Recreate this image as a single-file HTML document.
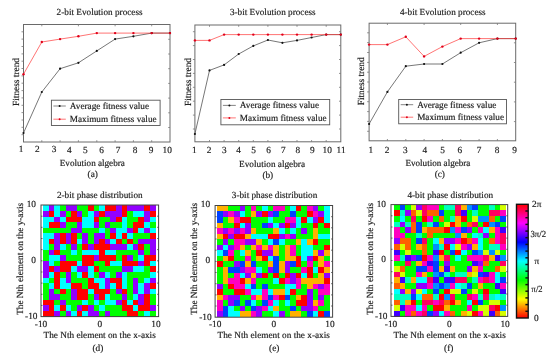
<!DOCTYPE html>
<html><head><meta charset="utf-8"><style>
html,body{margin:0;padding:0;background:#fff;}
body{width:550px;height:358px;overflow:hidden;}
svg{display:block;font-family:'Liberation Serif','Times New Roman',serif;font-size:9.3px;}
text{fill:#222;stroke:#222;stroke-width:0.18px;text-rendering:geometricPrecision;}
</style></head><body>
<svg width="550" height="358" viewBox="0 0 550 358">
<rect width="550" height="358" fill="#fff"/>
<rect x="23.5" y="24.5" width="146.5" height="117.5" fill="none" stroke="#6a6a6a" stroke-width="1"/>
<line x1="21.5" y1="31.8" x2="23.5" y2="31.8" stroke="#777" stroke-width="0.8"/>
<line x1="21.5" y1="39.1" x2="23.5" y2="39.1" stroke="#777" stroke-width="0.8"/>
<line x1="21.5" y1="46.5" x2="23.5" y2="46.5" stroke="#777" stroke-width="0.8"/>
<line x1="21.5" y1="53.9" x2="23.5" y2="53.9" stroke="#777" stroke-width="0.8"/>
<line x1="21.5" y1="61.2" x2="23.5" y2="61.2" stroke="#777" stroke-width="0.8"/>
<line x1="21.5" y1="68.5" x2="23.5" y2="68.5" stroke="#777" stroke-width="0.8"/>
<line x1="21.5" y1="75.9" x2="23.5" y2="75.9" stroke="#777" stroke-width="0.8"/>
<line x1="21.5" y1="83.2" x2="23.5" y2="83.2" stroke="#777" stroke-width="0.8"/>
<line x1="21.5" y1="90.6" x2="23.5" y2="90.6" stroke="#777" stroke-width="0.8"/>
<line x1="21.5" y1="97.9" x2="23.5" y2="97.9" stroke="#777" stroke-width="0.8"/>
<line x1="21.5" y1="105.3" x2="23.5" y2="105.3" stroke="#777" stroke-width="0.8"/>
<line x1="21.5" y1="112.6" x2="23.5" y2="112.6" stroke="#777" stroke-width="0.8"/>
<line x1="21.5" y1="120.0" x2="23.5" y2="120.0" stroke="#777" stroke-width="0.8"/>
<line x1="21.5" y1="127.3" x2="23.5" y2="127.3" stroke="#777" stroke-width="0.8"/>
<line x1="21.5" y1="134.7" x2="23.5" y2="134.7" stroke="#777" stroke-width="0.8"/>
<line x1="170" y1="39.3" x2="168.2" y2="39.3" stroke="#777" stroke-width="0.8"/>
<line x1="170" y1="54.0" x2="168.2" y2="54.0" stroke="#777" stroke-width="0.8"/>
<line x1="170" y1="68.7" x2="168.2" y2="68.7" stroke="#777" stroke-width="0.8"/>
<line x1="170" y1="83.4" x2="168.2" y2="83.4" stroke="#777" stroke-width="0.8"/>
<line x1="170" y1="98.1" x2="168.2" y2="98.1" stroke="#777" stroke-width="0.8"/>
<line x1="170" y1="112.8" x2="168.2" y2="112.8" stroke="#777" stroke-width="0.8"/>
<line x1="170" y1="127.5" x2="168.2" y2="127.5" stroke="#777" stroke-width="0.8"/>
<line x1="41.8" y1="24.5" x2="41.8" y2="26.3" stroke="#777" stroke-width="0.8"/>
<line x1="41.8" y1="142" x2="41.8" y2="140.2" stroke="#777" stroke-width="0.8"/>
<line x1="60.1" y1="142" x2="60.1" y2="140.2" stroke="#777" stroke-width="0.8"/>
<line x1="78.4" y1="24.5" x2="78.4" y2="26.3" stroke="#777" stroke-width="0.8"/>
<line x1="78.4" y1="142" x2="78.4" y2="140.2" stroke="#777" stroke-width="0.8"/>
<line x1="96.8" y1="142" x2="96.8" y2="140.2" stroke="#777" stroke-width="0.8"/>
<line x1="115.1" y1="24.5" x2="115.1" y2="26.3" stroke="#777" stroke-width="0.8"/>
<line x1="115.1" y1="142" x2="115.1" y2="140.2" stroke="#777" stroke-width="0.8"/>
<line x1="133.4" y1="142" x2="133.4" y2="140.2" stroke="#777" stroke-width="0.8"/>
<line x1="151.7" y1="24.5" x2="151.7" y2="26.3" stroke="#777" stroke-width="0.8"/>
<line x1="151.7" y1="142" x2="151.7" y2="140.2" stroke="#777" stroke-width="0.8"/>
<polyline points="23.5,133 41.8,92 60.1,68.7 78.4,62.8 96.8,50.9 115.1,39.1 133.4,36.3 151.7,33.1 170.0,33.1" fill="none" stroke="#4a4a4a" stroke-width="0.75"/>
<polyline points="23.5,74.2 41.8,42 60.1,39.1 78.4,36.3 96.8,33.1 115.1,33.1 133.4,33.1 151.7,33.1 170.0,33.1" fill="none" stroke="#ff3838" stroke-width="0.7"/>
<circle cx="23.5" cy="133" r="1.1" fill="#111"/>
<circle cx="41.8" cy="92" r="1.1" fill="#111"/>
<circle cx="60.1" cy="68.7" r="1.1" fill="#111"/>
<circle cx="78.4" cy="62.8" r="1.1" fill="#111"/>
<circle cx="96.8" cy="50.9" r="1.1" fill="#111"/>
<circle cx="115.1" cy="39.1" r="1.1" fill="#111"/>
<circle cx="133.4" cy="36.3" r="1.1" fill="#111"/>
<circle cx="151.7" cy="33.1" r="1.1" fill="#111"/>
<circle cx="170.0" cy="33.1" r="1.1" fill="#111"/>
<circle cx="23.5" cy="74.2" r="1.2" fill="#e0001a"/>
<circle cx="41.8" cy="42" r="1.2" fill="#e0001a"/>
<circle cx="60.1" cy="39.1" r="1.2" fill="#e0001a"/>
<circle cx="78.4" cy="36.3" r="1.2" fill="#e0001a"/>
<circle cx="96.8" cy="33.1" r="1.2" fill="#e0001a"/>
<circle cx="115.1" cy="33.1" r="1.2" fill="#e0001a"/>
<circle cx="133.4" cy="33.1" r="1.2" fill="#e0001a"/>
<circle cx="151.7" cy="33.1" r="1.2" fill="#e0001a"/>
<circle cx="170.0" cy="33.1" r="1.2" fill="#e0001a"/>
<text x="56.6" y="14.6" textLength="86" lengthAdjust="spacingAndGlyphs">2-bit Evolution process</text>
<text x="21" y="151.7" text-anchor="middle">1</text>
<text x="37.4" y="152.0" text-anchor="middle">2</text>
<text x="54" y="152.3" text-anchor="middle">3</text>
<text x="69.3" y="152.6" text-anchor="middle">4</text>
<text x="85.3" y="152.8" text-anchor="middle">5</text>
<text x="101.6" y="152.8" text-anchor="middle">6</text>
<text x="118" y="152.8" text-anchor="middle">7</text>
<text x="135.2" y="152.8" text-anchor="middle">8</text>
<text x="151.2" y="152.8" text-anchor="middle">9</text>
<text x="167.2" y="152.8" text-anchor="middle">10</text>
<text x="19.4" y="82" text-anchor="middle" textLength="48" lengthAdjust="spacingAndGlyphs" transform="rotate(-90 19.4 82)">Fitness trend</text>
<text x="59.8" y="166.20000000000002" textLength="65" lengthAdjust="spacingAndGlyphs">Evolution algebra</text>
<text x="92.7" y="176.89999999999998" text-anchor="middle">(a)</text>
<rect x="51.4" y="100.2" width="108.7" height="25.3" fill="#fff" stroke="#555" stroke-width="0.9"/>
<line x1="53.4" y1="106" x2="65.8" y2="106" stroke="#666" stroke-width="0.8"/>
<circle cx="59.6" cy="106" r="1" fill="#111"/>
<line x1="53.4" y1="119.2" x2="65.8" y2="119.2" stroke="#ff5050" stroke-width="0.8"/>
<circle cx="59.6" cy="119.2" r="1" fill="#e0001a"/>
<text x="69.8" y="109.0" textLength="79.2" lengthAdjust="spacingAndGlyphs">Average fitness value</text>
<text x="69.8" y="121.8" textLength="86.8" lengthAdjust="spacingAndGlyphs">Maximum fitness value</text>
<rect x="194.9" y="25" width="145.9" height="116.8" fill="none" stroke="#6a6a6a" stroke-width="1"/>
<line x1="192.9" y1="31.7" x2="194.9" y2="31.7" stroke="#777" stroke-width="0.8"/>
<line x1="192.9" y1="45.6" x2="194.9" y2="45.6" stroke="#777" stroke-width="0.8"/>
<line x1="192.9" y1="59.5" x2="194.9" y2="59.5" stroke="#777" stroke-width="0.8"/>
<line x1="192.9" y1="73.4" x2="194.9" y2="73.4" stroke="#777" stroke-width="0.8"/>
<line x1="192.9" y1="87.3" x2="194.9" y2="87.3" stroke="#777" stroke-width="0.8"/>
<line x1="192.9" y1="101.2" x2="194.9" y2="101.2" stroke="#777" stroke-width="0.8"/>
<line x1="192.9" y1="115.1" x2="194.9" y2="115.1" stroke="#777" stroke-width="0.8"/>
<line x1="192.9" y1="129.0" x2="194.9" y2="129.0" stroke="#777" stroke-width="0.8"/>
<line x1="340.8" y1="31.7" x2="339.0" y2="31.7" stroke="#777" stroke-width="0.8"/>
<line x1="340.8" y1="45.6" x2="339.0" y2="45.6" stroke="#777" stroke-width="0.8"/>
<line x1="340.8" y1="59.5" x2="339.0" y2="59.5" stroke="#777" stroke-width="0.8"/>
<line x1="340.8" y1="73.4" x2="339.0" y2="73.4" stroke="#777" stroke-width="0.8"/>
<line x1="340.8" y1="87.3" x2="339.0" y2="87.3" stroke="#777" stroke-width="0.8"/>
<line x1="340.8" y1="101.2" x2="339.0" y2="101.2" stroke="#777" stroke-width="0.8"/>
<line x1="340.8" y1="115.1" x2="339.0" y2="115.1" stroke="#777" stroke-width="0.8"/>
<line x1="340.8" y1="129.0" x2="339.0" y2="129.0" stroke="#777" stroke-width="0.8"/>
<line x1="209.5" y1="25" x2="209.5" y2="26.8" stroke="#777" stroke-width="0.8"/>
<line x1="209.5" y1="141.8" x2="209.5" y2="140.0" stroke="#777" stroke-width="0.8"/>
<line x1="224.1" y1="141.8" x2="224.1" y2="140.0" stroke="#777" stroke-width="0.8"/>
<line x1="238.7" y1="25" x2="238.7" y2="26.8" stroke="#777" stroke-width="0.8"/>
<line x1="238.7" y1="141.8" x2="238.7" y2="140.0" stroke="#777" stroke-width="0.8"/>
<line x1="253.3" y1="141.8" x2="253.3" y2="140.0" stroke="#777" stroke-width="0.8"/>
<line x1="267.9" y1="25" x2="267.9" y2="26.8" stroke="#777" stroke-width="0.8"/>
<line x1="267.9" y1="141.8" x2="267.9" y2="140.0" stroke="#777" stroke-width="0.8"/>
<line x1="282.4" y1="141.8" x2="282.4" y2="140.0" stroke="#777" stroke-width="0.8"/>
<line x1="297.0" y1="25" x2="297.0" y2="26.8" stroke="#777" stroke-width="0.8"/>
<line x1="297.0" y1="141.8" x2="297.0" y2="140.0" stroke="#777" stroke-width="0.8"/>
<line x1="311.6" y1="141.8" x2="311.6" y2="140.0" stroke="#777" stroke-width="0.8"/>
<line x1="326.2" y1="25" x2="326.2" y2="26.8" stroke="#777" stroke-width="0.8"/>
<line x1="326.2" y1="141.8" x2="326.2" y2="140.0" stroke="#777" stroke-width="0.8"/>
<polyline points="194.9,134 209.5,70.4 224.1,64.9 238.7,54 253.3,45.9 267.9,40 282.4,42.8 297.0,40.4 311.6,37.5 326.2,34.6 340.8,34.6" fill="none" stroke="#4a4a4a" stroke-width="0.75"/>
<polyline points="194.9,40.4 209.5,40.4 224.1,34.6 238.7,34.6 253.3,34.6 267.9,34.6 282.4,34.6 297.0,34.6 311.6,34.6 326.2,34.6 340.8,34.6" fill="none" stroke="#ff3838" stroke-width="0.7"/>
<circle cx="194.9" cy="134" r="1.1" fill="#111"/>
<circle cx="209.5" cy="70.4" r="1.1" fill="#111"/>
<circle cx="224.1" cy="64.9" r="1.1" fill="#111"/>
<circle cx="238.7" cy="54" r="1.1" fill="#111"/>
<circle cx="253.3" cy="45.9" r="1.1" fill="#111"/>
<circle cx="267.9" cy="40" r="1.1" fill="#111"/>
<circle cx="282.4" cy="42.8" r="1.1" fill="#111"/>
<circle cx="297.0" cy="40.4" r="1.1" fill="#111"/>
<circle cx="311.6" cy="37.5" r="1.1" fill="#111"/>
<circle cx="326.2" cy="34.6" r="1.1" fill="#111"/>
<circle cx="340.8" cy="34.6" r="1.1" fill="#111"/>
<circle cx="194.9" cy="40.4" r="1.2" fill="#e0001a"/>
<circle cx="209.5" cy="40.4" r="1.2" fill="#e0001a"/>
<circle cx="224.1" cy="34.6" r="1.2" fill="#e0001a"/>
<circle cx="238.7" cy="34.6" r="1.2" fill="#e0001a"/>
<circle cx="253.3" cy="34.6" r="1.2" fill="#e0001a"/>
<circle cx="267.9" cy="34.6" r="1.2" fill="#e0001a"/>
<circle cx="282.4" cy="34.6" r="1.2" fill="#e0001a"/>
<circle cx="297.0" cy="34.6" r="1.2" fill="#e0001a"/>
<circle cx="311.6" cy="34.6" r="1.2" fill="#e0001a"/>
<circle cx="326.2" cy="34.6" r="1.2" fill="#e0001a"/>
<circle cx="340.8" cy="34.6" r="1.2" fill="#e0001a"/>
<text x="229.9" y="15.1" textLength="85.8" lengthAdjust="spacingAndGlyphs">3-bit Evolution process</text>
<text x="194.3" y="152.8" text-anchor="middle">1</text>
<text x="209.1" y="152.8" text-anchor="middle">2</text>
<text x="224.3" y="152.8" text-anchor="middle">3</text>
<text x="238.5" y="152.8" text-anchor="middle">4</text>
<text x="253.6" y="152.8" text-anchor="middle">5</text>
<text x="268.5" y="152.8" text-anchor="middle">6</text>
<text x="283.3" y="152.8" text-anchor="middle">7</text>
<text x="297.8" y="152.8" text-anchor="middle">8</text>
<text x="312.4" y="152.8" text-anchor="middle">9</text>
<text x="327.2" y="152.8" text-anchor="middle">10</text>
<text x="341.1" y="152.8" text-anchor="middle">11</text>
<text x="190.5" y="82" text-anchor="middle" textLength="48" lengthAdjust="spacingAndGlyphs" transform="rotate(-90 190.5 82)">Fitness trend</text>
<text x="239.1" y="166.5" textLength="65.9" lengthAdjust="spacingAndGlyphs">Evolution algebra</text>
<text x="267.8" y="177.5" text-anchor="middle">(b)</text>
<rect x="220.9" y="99.5" width="108.8" height="25.3" fill="#fff" stroke="#555" stroke-width="0.9"/>
<line x1="222.9" y1="105.4" x2="235.8" y2="105.4" stroke="#666" stroke-width="0.8"/>
<circle cx="229.4" cy="105.4" r="1" fill="#111"/>
<line x1="222.9" y1="117.9" x2="235.8" y2="117.9" stroke="#ff5050" stroke-width="0.8"/>
<circle cx="229.4" cy="117.9" r="1" fill="#e0001a"/>
<text x="239.8" y="108.4" textLength="79.2" lengthAdjust="spacingAndGlyphs">Average fitness value</text>
<text x="239.8" y="120.5" textLength="86.8" lengthAdjust="spacingAndGlyphs">Maximum fitness value</text>
<rect x="369.1" y="23.2" width="146.6" height="117.6" fill="none" stroke="#6a6a6a" stroke-width="1"/>
<line x1="367.1" y1="32.8" x2="369.1" y2="32.8" stroke="#777" stroke-width="0.8"/>
<line x1="367.1" y1="42.6" x2="369.1" y2="42.6" stroke="#777" stroke-width="0.8"/>
<line x1="367.1" y1="52.5" x2="369.1" y2="52.5" stroke="#777" stroke-width="0.8"/>
<line x1="367.1" y1="62.4" x2="369.1" y2="62.4" stroke="#777" stroke-width="0.8"/>
<line x1="367.1" y1="72.2" x2="369.1" y2="72.2" stroke="#777" stroke-width="0.8"/>
<line x1="367.1" y1="82.0" x2="369.1" y2="82.0" stroke="#777" stroke-width="0.8"/>
<line x1="367.1" y1="91.9" x2="369.1" y2="91.9" stroke="#777" stroke-width="0.8"/>
<line x1="367.1" y1="101.7" x2="369.1" y2="101.7" stroke="#777" stroke-width="0.8"/>
<line x1="367.1" y1="111.6" x2="369.1" y2="111.6" stroke="#777" stroke-width="0.8"/>
<line x1="367.1" y1="121.4" x2="369.1" y2="121.4" stroke="#777" stroke-width="0.8"/>
<line x1="367.1" y1="131.3" x2="369.1" y2="131.3" stroke="#777" stroke-width="0.8"/>
<line x1="515.7" y1="42.8" x2="513.9000000000001" y2="42.8" stroke="#777" stroke-width="0.8"/>
<line x1="515.7" y1="62.5" x2="513.9000000000001" y2="62.5" stroke="#777" stroke-width="0.8"/>
<line x1="515.7" y1="82.2" x2="513.9000000000001" y2="82.2" stroke="#777" stroke-width="0.8"/>
<line x1="515.7" y1="101.9" x2="513.9000000000001" y2="101.9" stroke="#777" stroke-width="0.8"/>
<line x1="515.7" y1="121.6" x2="513.9000000000001" y2="121.6" stroke="#777" stroke-width="0.8"/>
<line x1="387.4" y1="23.2" x2="387.4" y2="25.0" stroke="#777" stroke-width="0.8"/>
<line x1="387.4" y1="140.8" x2="387.4" y2="139.0" stroke="#777" stroke-width="0.8"/>
<line x1="405.8" y1="140.8" x2="405.8" y2="139.0" stroke="#777" stroke-width="0.8"/>
<line x1="424.1" y1="23.2" x2="424.1" y2="25.0" stroke="#777" stroke-width="0.8"/>
<line x1="424.1" y1="140.8" x2="424.1" y2="139.0" stroke="#777" stroke-width="0.8"/>
<line x1="442.4" y1="140.8" x2="442.4" y2="139.0" stroke="#777" stroke-width="0.8"/>
<line x1="460.7" y1="23.2" x2="460.7" y2="25.0" stroke="#777" stroke-width="0.8"/>
<line x1="460.7" y1="140.8" x2="460.7" y2="139.0" stroke="#777" stroke-width="0.8"/>
<line x1="479.1" y1="140.8" x2="479.1" y2="139.0" stroke="#777" stroke-width="0.8"/>
<line x1="497.4" y1="23.2" x2="497.4" y2="25.0" stroke="#777" stroke-width="0.8"/>
<line x1="497.4" y1="140.8" x2="497.4" y2="139.0" stroke="#777" stroke-width="0.8"/>
<polyline points="369.1,124 387.4,91.9 405.8,66.2 424.1,64 442.4,64 460.7,52.7 479.1,42.8 497.4,38.6 515.7,38.6" fill="none" stroke="#4a4a4a" stroke-width="0.75"/>
<polyline points="369.1,44.6 387.4,44.6 405.8,36.8 424.1,56.4 442.4,46.6 460.7,38.6 479.1,38.6 497.4,38.6 515.7,38.6" fill="none" stroke="#ff3838" stroke-width="0.7"/>
<circle cx="369.1" cy="124" r="1.1" fill="#111"/>
<circle cx="387.4" cy="91.9" r="1.1" fill="#111"/>
<circle cx="405.8" cy="66.2" r="1.1" fill="#111"/>
<circle cx="424.1" cy="64" r="1.1" fill="#111"/>
<circle cx="442.4" cy="64" r="1.1" fill="#111"/>
<circle cx="460.7" cy="52.7" r="1.1" fill="#111"/>
<circle cx="479.1" cy="42.8" r="1.1" fill="#111"/>
<circle cx="497.4" cy="38.6" r="1.1" fill="#111"/>
<circle cx="515.7" cy="38.6" r="1.1" fill="#111"/>
<circle cx="369.1" cy="44.6" r="1.2" fill="#e0001a"/>
<circle cx="387.4" cy="44.6" r="1.2" fill="#e0001a"/>
<circle cx="405.8" cy="36.8" r="1.2" fill="#e0001a"/>
<circle cx="424.1" cy="56.4" r="1.2" fill="#e0001a"/>
<circle cx="442.4" cy="46.6" r="1.2" fill="#e0001a"/>
<circle cx="460.7" cy="38.6" r="1.2" fill="#e0001a"/>
<circle cx="479.1" cy="38.6" r="1.2" fill="#e0001a"/>
<circle cx="497.4" cy="38.6" r="1.2" fill="#e0001a"/>
<circle cx="515.7" cy="38.6" r="1.2" fill="#e0001a"/>
<text x="399.9" y="14.6" textLength="85.8" lengthAdjust="spacingAndGlyphs">4-bit Evolution process</text>
<text x="370.8" y="152.8" text-anchor="middle">1</text>
<text x="387.2" y="152.8" text-anchor="middle">2</text>
<text x="405.4" y="152.8" text-anchor="middle">3</text>
<text x="424.9" y="152.8" text-anchor="middle">4</text>
<text x="442.5" y="152.8" text-anchor="middle">5</text>
<text x="459.8" y="152.8" text-anchor="middle">6</text>
<text x="479" y="152.8" text-anchor="middle">7</text>
<text x="497" y="152.8" text-anchor="middle">8</text>
<text x="514.6" y="152.8" text-anchor="middle">9</text>
<text x="364.2" y="81.3" text-anchor="middle" textLength="48" lengthAdjust="spacingAndGlyphs" transform="rotate(-90 364.2 81.3)">Fitness trend</text>
<text x="405.4" y="165.60000000000002" textLength="65" lengthAdjust="spacingAndGlyphs">Evolution algebra</text>
<text x="439.8" y="176.79999999999998" text-anchor="middle">(c)</text>
<rect x="398.7" y="99.5" width="107.8" height="24.3" fill="#fff" stroke="#555" stroke-width="0.9"/>
<line x1="400.7" y1="104.7" x2="413.2" y2="104.7" stroke="#666" stroke-width="0.8"/>
<circle cx="406.9" cy="104.7" r="1" fill="#111"/>
<line x1="400.7" y1="117.2" x2="413.2" y2="117.2" stroke="#ff5050" stroke-width="0.8"/>
<circle cx="406.9" cy="117.2" r="1" fill="#e0001a"/>
<text x="417.2" y="107.7" textLength="79.2" lengthAdjust="spacingAndGlyphs">Average fitness value</text>
<text x="417.2" y="119.8" textLength="86.8" lengthAdjust="spacingAndGlyphs">Maximum fitness value</text>
<g shape-rendering="crispEdges"><rect x="43.10" y="205.40" width="5.91" height="5.85" fill="#00ffff"/><rect x="48.71" y="205.40" width="5.91" height="5.85" fill="#9200ff"/><rect x="54.32" y="205.40" width="5.91" height="5.85" fill="#00ffff"/><rect x="59.93" y="205.40" width="5.91" height="5.85" fill="#00ff00"/><rect x="65.54" y="205.40" width="5.91" height="5.85" fill="#9200ff"/><rect x="71.15" y="205.40" width="5.91" height="5.85" fill="#9200ff"/><rect x="76.76" y="205.40" width="5.91" height="5.85" fill="#00ff00"/><rect x="82.37" y="205.40" width="5.91" height="5.85" fill="#00ff00"/><rect x="87.98" y="205.40" width="5.91" height="5.85" fill="#ff0000"/><rect x="93.59" y="205.40" width="5.91" height="5.85" fill="#00ff00"/><rect x="99.20" y="205.40" width="5.91" height="5.85" fill="#00ffff"/><rect x="104.81" y="205.40" width="5.91" height="5.85" fill="#ff0000"/><rect x="110.42" y="205.40" width="5.91" height="5.85" fill="#ff0000"/><rect x="116.03" y="205.40" width="5.91" height="5.85" fill="#9200ff"/><rect x="121.64" y="205.40" width="5.91" height="5.85" fill="#ff0000"/><rect x="127.25" y="205.40" width="5.91" height="5.85" fill="#9200ff"/><rect x="132.86" y="205.40" width="5.91" height="5.85" fill="#9200ff"/><rect x="138.47" y="205.40" width="5.91" height="5.85" fill="#9200ff"/><rect x="144.08" y="205.40" width="5.91" height="5.85" fill="#ff0000"/><rect x="149.69" y="205.40" width="5.91" height="5.85" fill="#9200ff"/><rect x="43.10" y="210.95" width="5.91" height="5.85" fill="#9200ff"/><rect x="48.71" y="210.95" width="5.91" height="5.85" fill="#ff0000"/><rect x="54.32" y="210.95" width="5.91" height="5.85" fill="#00ffff"/><rect x="59.93" y="210.95" width="5.91" height="5.85" fill="#9200ff"/><rect x="65.54" y="210.95" width="5.91" height="5.85" fill="#00ff00"/><rect x="71.15" y="210.95" width="5.91" height="5.85" fill="#ff0000"/><rect x="76.76" y="210.95" width="5.91" height="5.85" fill="#9200ff"/><rect x="82.37" y="210.95" width="5.91" height="5.85" fill="#00ff00"/><rect x="87.98" y="210.95" width="5.91" height="5.85" fill="#00ffff"/><rect x="93.59" y="210.95" width="5.91" height="5.85" fill="#9200ff"/><rect x="99.20" y="210.95" width="5.91" height="5.85" fill="#ff0000"/><rect x="104.81" y="210.95" width="5.91" height="5.85" fill="#9200ff"/><rect x="110.42" y="210.95" width="5.91" height="5.85" fill="#9200ff"/><rect x="116.03" y="210.95" width="5.91" height="5.85" fill="#9200ff"/><rect x="121.64" y="210.95" width="5.91" height="5.85" fill="#ff0000"/><rect x="127.25" y="210.95" width="5.91" height="5.85" fill="#00ff00"/><rect x="132.86" y="210.95" width="5.91" height="5.85" fill="#00ffff"/><rect x="138.47" y="210.95" width="5.91" height="5.85" fill="#00ffff"/><rect x="144.08" y="210.95" width="5.91" height="5.85" fill="#9200ff"/><rect x="149.69" y="210.95" width="5.91" height="5.85" fill="#ff0000"/><rect x="43.10" y="216.50" width="5.91" height="5.85" fill="#00ffff"/><rect x="48.71" y="216.50" width="5.91" height="5.85" fill="#00ffff"/><rect x="54.32" y="216.50" width="5.91" height="5.85" fill="#9200ff"/><rect x="59.93" y="216.50" width="5.91" height="5.85" fill="#00ffff"/><rect x="65.54" y="216.50" width="5.91" height="5.85" fill="#ff0000"/><rect x="71.15" y="216.50" width="5.91" height="5.85" fill="#ff0000"/><rect x="76.76" y="216.50" width="5.91" height="5.85" fill="#ff0000"/><rect x="82.37" y="216.50" width="5.91" height="5.85" fill="#00ffff"/><rect x="87.98" y="216.50" width="5.91" height="5.85" fill="#00ffff"/><rect x="93.59" y="216.50" width="5.91" height="5.85" fill="#ff0000"/><rect x="99.20" y="216.50" width="5.91" height="5.85" fill="#00ff00"/><rect x="104.81" y="216.50" width="5.91" height="5.85" fill="#00ff00"/><rect x="110.42" y="216.50" width="5.91" height="5.85" fill="#9200ff"/><rect x="116.03" y="216.50" width="5.91" height="5.85" fill="#ff0000"/><rect x="121.64" y="216.50" width="5.91" height="5.85" fill="#00ffff"/><rect x="127.25" y="216.50" width="5.91" height="5.85" fill="#00ff00"/><rect x="132.86" y="216.50" width="5.91" height="5.85" fill="#00ff00"/><rect x="138.47" y="216.50" width="5.91" height="5.85" fill="#ff0000"/><rect x="144.08" y="216.50" width="5.91" height="5.85" fill="#9200ff"/><rect x="149.69" y="216.50" width="5.91" height="5.85" fill="#00ffff"/><rect x="43.10" y="222.05" width="5.91" height="5.85" fill="#00ffff"/><rect x="48.71" y="222.05" width="5.91" height="5.85" fill="#ff0000"/><rect x="54.32" y="222.05" width="5.91" height="5.85" fill="#ff0000"/><rect x="59.93" y="222.05" width="5.91" height="5.85" fill="#9200ff"/><rect x="65.54" y="222.05" width="5.91" height="5.85" fill="#00ff00"/><rect x="71.15" y="222.05" width="5.91" height="5.85" fill="#00ff00"/><rect x="76.76" y="222.05" width="5.91" height="5.85" fill="#9200ff"/><rect x="82.37" y="222.05" width="5.91" height="5.85" fill="#00ffff"/><rect x="87.98" y="222.05" width="5.91" height="5.85" fill="#00ffff"/><rect x="93.59" y="222.05" width="5.91" height="5.85" fill="#9200ff"/><rect x="99.20" y="222.05" width="5.91" height="5.85" fill="#00ff00"/><rect x="104.81" y="222.05" width="5.91" height="5.85" fill="#9200ff"/><rect x="110.42" y="222.05" width="5.91" height="5.85" fill="#00ff00"/><rect x="116.03" y="222.05" width="5.91" height="5.85" fill="#00ff00"/><rect x="121.64" y="222.05" width="5.91" height="5.85" fill="#00ffff"/><rect x="127.25" y="222.05" width="5.91" height="5.85" fill="#00ff00"/><rect x="132.86" y="222.05" width="5.91" height="5.85" fill="#ff0000"/><rect x="138.47" y="222.05" width="5.91" height="5.85" fill="#ff0000"/><rect x="144.08" y="222.05" width="5.91" height="5.85" fill="#00ffff"/><rect x="149.69" y="222.05" width="5.91" height="5.85" fill="#00ff00"/><rect x="43.10" y="227.60" width="5.91" height="5.85" fill="#00ff00"/><rect x="48.71" y="227.60" width="5.91" height="5.85" fill="#00ff00"/><rect x="54.32" y="227.60" width="5.91" height="5.85" fill="#00ff00"/><rect x="59.93" y="227.60" width="5.91" height="5.85" fill="#00ff00"/><rect x="65.54" y="227.60" width="5.91" height="5.85" fill="#00ff00"/><rect x="71.15" y="227.60" width="5.91" height="5.85" fill="#9200ff"/><rect x="76.76" y="227.60" width="5.91" height="5.85" fill="#9200ff"/><rect x="82.37" y="227.60" width="5.91" height="5.85" fill="#00ff00"/><rect x="87.98" y="227.60" width="5.91" height="5.85" fill="#00ff00"/><rect x="93.59" y="227.60" width="5.91" height="5.85" fill="#00ff00"/><rect x="99.20" y="227.60" width="5.91" height="5.85" fill="#00ffff"/><rect x="104.81" y="227.60" width="5.91" height="5.85" fill="#00ff00"/><rect x="110.42" y="227.60" width="5.91" height="5.85" fill="#9200ff"/><rect x="116.03" y="227.60" width="5.91" height="5.85" fill="#00ffff"/><rect x="121.64" y="227.60" width="5.91" height="5.85" fill="#00ffff"/><rect x="127.25" y="227.60" width="5.91" height="5.85" fill="#9200ff"/><rect x="132.86" y="227.60" width="5.91" height="5.85" fill="#ff0000"/><rect x="138.47" y="227.60" width="5.91" height="5.85" fill="#00ffff"/><rect x="144.08" y="227.60" width="5.91" height="5.85" fill="#9200ff"/><rect x="149.69" y="227.60" width="5.91" height="5.85" fill="#00ffff"/><rect x="43.10" y="233.15" width="5.91" height="5.85" fill="#00ffff"/><rect x="48.71" y="233.15" width="5.91" height="5.85" fill="#00ffff"/><rect x="54.32" y="233.15" width="5.91" height="5.85" fill="#9200ff"/><rect x="59.93" y="233.15" width="5.91" height="5.85" fill="#ff0000"/><rect x="65.54" y="233.15" width="5.91" height="5.85" fill="#9200ff"/><rect x="71.15" y="233.15" width="5.91" height="5.85" fill="#ff0000"/><rect x="76.76" y="233.15" width="5.91" height="5.85" fill="#00ff00"/><rect x="82.37" y="233.15" width="5.91" height="5.85" fill="#9200ff"/><rect x="87.98" y="233.15" width="5.91" height="5.85" fill="#00ff00"/><rect x="93.59" y="233.15" width="5.91" height="5.85" fill="#9200ff"/><rect x="99.20" y="233.15" width="5.91" height="5.85" fill="#9200ff"/><rect x="104.81" y="233.15" width="5.91" height="5.85" fill="#00ff00"/><rect x="110.42" y="233.15" width="5.91" height="5.85" fill="#ff0000"/><rect x="116.03" y="233.15" width="5.91" height="5.85" fill="#00ffff"/><rect x="121.64" y="233.15" width="5.91" height="5.85" fill="#ff0000"/><rect x="127.25" y="233.15" width="5.91" height="5.85" fill="#00ffff"/><rect x="132.86" y="233.15" width="5.91" height="5.85" fill="#00ff00"/><rect x="138.47" y="233.15" width="5.91" height="5.85" fill="#00ff00"/><rect x="144.08" y="233.15" width="5.91" height="5.85" fill="#00ff00"/><rect x="149.69" y="233.15" width="5.91" height="5.85" fill="#ff0000"/><rect x="43.10" y="238.70" width="5.91" height="5.85" fill="#00ffff"/><rect x="48.71" y="238.70" width="5.91" height="5.85" fill="#ff0000"/><rect x="54.32" y="238.70" width="5.91" height="5.85" fill="#9200ff"/><rect x="59.93" y="238.70" width="5.91" height="5.85" fill="#ff0000"/><rect x="65.54" y="238.70" width="5.91" height="5.85" fill="#9200ff"/><rect x="71.15" y="238.70" width="5.91" height="5.85" fill="#ff0000"/><rect x="76.76" y="238.70" width="5.91" height="5.85" fill="#00ffff"/><rect x="82.37" y="238.70" width="5.91" height="5.85" fill="#9200ff"/><rect x="87.98" y="238.70" width="5.91" height="5.85" fill="#00ff00"/><rect x="93.59" y="238.70" width="5.91" height="5.85" fill="#9200ff"/><rect x="99.20" y="238.70" width="5.91" height="5.85" fill="#ff0000"/><rect x="104.81" y="238.70" width="5.91" height="5.85" fill="#9200ff"/><rect x="110.42" y="238.70" width="5.91" height="5.85" fill="#00ffff"/><rect x="116.03" y="238.70" width="5.91" height="5.85" fill="#ff0000"/><rect x="121.64" y="238.70" width="5.91" height="5.85" fill="#00ff00"/><rect x="127.25" y="238.70" width="5.91" height="5.85" fill="#ff0000"/><rect x="132.86" y="238.70" width="5.91" height="5.85" fill="#00ff00"/><rect x="138.47" y="238.70" width="5.91" height="5.85" fill="#9200ff"/><rect x="144.08" y="238.70" width="5.91" height="5.85" fill="#9200ff"/><rect x="149.69" y="238.70" width="5.91" height="5.85" fill="#9200ff"/><rect x="43.10" y="244.25" width="5.91" height="5.85" fill="#00ffff"/><rect x="48.71" y="244.25" width="5.91" height="5.85" fill="#00ff00"/><rect x="54.32" y="244.25" width="5.91" height="5.85" fill="#9200ff"/><rect x="59.93" y="244.25" width="5.91" height="5.85" fill="#00ffff"/><rect x="65.54" y="244.25" width="5.91" height="5.85" fill="#00ff00"/><rect x="71.15" y="244.25" width="5.91" height="5.85" fill="#9200ff"/><rect x="76.76" y="244.25" width="5.91" height="5.85" fill="#00ff00"/><rect x="82.37" y="244.25" width="5.91" height="5.85" fill="#ff0000"/><rect x="87.98" y="244.25" width="5.91" height="5.85" fill="#9200ff"/><rect x="93.59" y="244.25" width="5.91" height="5.85" fill="#ff0000"/><rect x="99.20" y="244.25" width="5.91" height="5.85" fill="#ff0000"/><rect x="104.81" y="244.25" width="5.91" height="5.85" fill="#ff0000"/><rect x="110.42" y="244.25" width="5.91" height="5.85" fill="#9200ff"/><rect x="116.03" y="244.25" width="5.91" height="5.85" fill="#9200ff"/><rect x="121.64" y="244.25" width="5.91" height="5.85" fill="#9200ff"/><rect x="127.25" y="244.25" width="5.91" height="5.85" fill="#00ffff"/><rect x="132.86" y="244.25" width="5.91" height="5.85" fill="#9200ff"/><rect x="138.47" y="244.25" width="5.91" height="5.85" fill="#ff0000"/><rect x="144.08" y="244.25" width="5.91" height="5.85" fill="#00ff00"/><rect x="149.69" y="244.25" width="5.91" height="5.85" fill="#9200ff"/><rect x="43.10" y="249.80" width="5.91" height="5.85" fill="#00ff00"/><rect x="48.71" y="249.80" width="5.91" height="5.85" fill="#9200ff"/><rect x="54.32" y="249.80" width="5.91" height="5.85" fill="#ff0000"/><rect x="59.93" y="249.80" width="5.91" height="5.85" fill="#00ff00"/><rect x="65.54" y="249.80" width="5.91" height="5.85" fill="#00ff00"/><rect x="71.15" y="249.80" width="5.91" height="5.85" fill="#00ffff"/><rect x="76.76" y="249.80" width="5.91" height="5.85" fill="#00ff00"/><rect x="82.37" y="249.80" width="5.91" height="5.85" fill="#00ffff"/><rect x="87.98" y="249.80" width="5.91" height="5.85" fill="#00ffff"/><rect x="93.59" y="249.80" width="5.91" height="5.85" fill="#00ffff"/><rect x="99.20" y="249.80" width="5.91" height="5.85" fill="#ff0000"/><rect x="104.81" y="249.80" width="5.91" height="5.85" fill="#00ffff"/><rect x="110.42" y="249.80" width="5.91" height="5.85" fill="#00ffff"/><rect x="116.03" y="249.80" width="5.91" height="5.85" fill="#00ff00"/><rect x="121.64" y="249.80" width="5.91" height="5.85" fill="#00ff00"/><rect x="127.25" y="249.80" width="5.91" height="5.85" fill="#00ff00"/><rect x="132.86" y="249.80" width="5.91" height="5.85" fill="#00ff00"/><rect x="138.47" y="249.80" width="5.91" height="5.85" fill="#9200ff"/><rect x="144.08" y="249.80" width="5.91" height="5.85" fill="#00ff00"/><rect x="149.69" y="249.80" width="5.91" height="5.85" fill="#9200ff"/><rect x="43.10" y="255.35" width="5.91" height="5.85" fill="#00ff00"/><rect x="48.71" y="255.35" width="5.91" height="5.85" fill="#00ffff"/><rect x="54.32" y="255.35" width="5.91" height="5.85" fill="#00ffff"/><rect x="59.93" y="255.35" width="5.91" height="5.85" fill="#9200ff"/><rect x="65.54" y="255.35" width="5.91" height="5.85" fill="#00ff00"/><rect x="71.15" y="255.35" width="5.91" height="5.85" fill="#00ff00"/><rect x="76.76" y="255.35" width="5.91" height="5.85" fill="#00ff00"/><rect x="82.37" y="255.35" width="5.91" height="5.85" fill="#ff0000"/><rect x="87.98" y="255.35" width="5.91" height="5.85" fill="#ff0000"/><rect x="93.59" y="255.35" width="5.91" height="5.85" fill="#9200ff"/><rect x="99.20" y="255.35" width="5.91" height="5.85" fill="#ff0000"/><rect x="104.81" y="255.35" width="5.91" height="5.85" fill="#ff0000"/><rect x="110.42" y="255.35" width="5.91" height="5.85" fill="#ff0000"/><rect x="116.03" y="255.35" width="5.91" height="5.85" fill="#00ff00"/><rect x="121.64" y="255.35" width="5.91" height="5.85" fill="#ff0000"/><rect x="127.25" y="255.35" width="5.91" height="5.85" fill="#9200ff"/><rect x="132.86" y="255.35" width="5.91" height="5.85" fill="#00ff00"/><rect x="138.47" y="255.35" width="5.91" height="5.85" fill="#00ffff"/><rect x="144.08" y="255.35" width="5.91" height="5.85" fill="#ff0000"/><rect x="149.69" y="255.35" width="5.91" height="5.85" fill="#ff0000"/><rect x="43.10" y="260.90" width="5.91" height="5.85" fill="#9200ff"/><rect x="48.71" y="260.90" width="5.91" height="5.85" fill="#00ffff"/><rect x="54.32" y="260.90" width="5.91" height="5.85" fill="#00ff00"/><rect x="59.93" y="260.90" width="5.91" height="5.85" fill="#ff0000"/><rect x="65.54" y="260.90" width="5.91" height="5.85" fill="#ff0000"/><rect x="71.15" y="260.90" width="5.91" height="5.85" fill="#ff0000"/><rect x="76.76" y="260.90" width="5.91" height="5.85" fill="#00ffff"/><rect x="82.37" y="260.90" width="5.91" height="5.85" fill="#ff0000"/><rect x="87.98" y="260.90" width="5.91" height="5.85" fill="#ff0000"/><rect x="93.59" y="260.90" width="5.91" height="5.85" fill="#00ff00"/><rect x="99.20" y="260.90" width="5.91" height="5.85" fill="#00ff00"/><rect x="104.81" y="260.90" width="5.91" height="5.85" fill="#ff0000"/><rect x="110.42" y="260.90" width="5.91" height="5.85" fill="#00ffff"/><rect x="116.03" y="260.90" width="5.91" height="5.85" fill="#00ffff"/><rect x="121.64" y="260.90" width="5.91" height="5.85" fill="#ff0000"/><rect x="127.25" y="260.90" width="5.91" height="5.85" fill="#ff0000"/><rect x="132.86" y="260.90" width="5.91" height="5.85" fill="#ff0000"/><rect x="138.47" y="260.90" width="5.91" height="5.85" fill="#9200ff"/><rect x="144.08" y="260.90" width="5.91" height="5.85" fill="#ff0000"/><rect x="149.69" y="260.90" width="5.91" height="5.85" fill="#00ffff"/><rect x="43.10" y="266.45" width="5.91" height="5.85" fill="#9200ff"/><rect x="48.71" y="266.45" width="5.91" height="5.85" fill="#ff0000"/><rect x="54.32" y="266.45" width="5.91" height="5.85" fill="#9200ff"/><rect x="59.93" y="266.45" width="5.91" height="5.85" fill="#ff0000"/><rect x="65.54" y="266.45" width="5.91" height="5.85" fill="#ff0000"/><rect x="71.15" y="266.45" width="5.91" height="5.85" fill="#00ffff"/><rect x="76.76" y="266.45" width="5.91" height="5.85" fill="#9200ff"/><rect x="82.37" y="266.45" width="5.91" height="5.85" fill="#9200ff"/><rect x="87.98" y="266.45" width="5.91" height="5.85" fill="#00ffff"/><rect x="93.59" y="266.45" width="5.91" height="5.85" fill="#ff0000"/><rect x="99.20" y="266.45" width="5.91" height="5.85" fill="#00ff00"/><rect x="104.81" y="266.45" width="5.91" height="5.85" fill="#00ff00"/><rect x="110.42" y="266.45" width="5.91" height="5.85" fill="#00ff00"/><rect x="116.03" y="266.45" width="5.91" height="5.85" fill="#00ff00"/><rect x="121.64" y="266.45" width="5.91" height="5.85" fill="#9200ff"/><rect x="127.25" y="266.45" width="5.91" height="5.85" fill="#9200ff"/><rect x="132.86" y="266.45" width="5.91" height="5.85" fill="#00ffff"/><rect x="138.47" y="266.45" width="5.91" height="5.85" fill="#00ffff"/><rect x="144.08" y="266.45" width="5.91" height="5.85" fill="#00ff00"/><rect x="149.69" y="266.45" width="5.91" height="5.85" fill="#ff0000"/><rect x="43.10" y="272.00" width="5.91" height="5.85" fill="#9200ff"/><rect x="48.71" y="272.00" width="5.91" height="5.85" fill="#00ffff"/><rect x="54.32" y="272.00" width="5.91" height="5.85" fill="#ff0000"/><rect x="59.93" y="272.00" width="5.91" height="5.85" fill="#00ff00"/><rect x="65.54" y="272.00" width="5.91" height="5.85" fill="#9200ff"/><rect x="71.15" y="272.00" width="5.91" height="5.85" fill="#00ff00"/><rect x="76.76" y="272.00" width="5.91" height="5.85" fill="#00ffff"/><rect x="82.37" y="272.00" width="5.91" height="5.85" fill="#ff0000"/><rect x="87.98" y="272.00" width="5.91" height="5.85" fill="#00ffff"/><rect x="93.59" y="272.00" width="5.91" height="5.85" fill="#00ff00"/><rect x="99.20" y="272.00" width="5.91" height="5.85" fill="#9200ff"/><rect x="104.81" y="272.00" width="5.91" height="5.85" fill="#00ffff"/><rect x="110.42" y="272.00" width="5.91" height="5.85" fill="#00ff00"/><rect x="116.03" y="272.00" width="5.91" height="5.85" fill="#9200ff"/><rect x="121.64" y="272.00" width="5.91" height="5.85" fill="#00ffff"/><rect x="127.25" y="272.00" width="5.91" height="5.85" fill="#00ff00"/><rect x="132.86" y="272.00" width="5.91" height="5.85" fill="#00ff00"/><rect x="138.47" y="272.00" width="5.91" height="5.85" fill="#00ff00"/><rect x="144.08" y="272.00" width="5.91" height="5.85" fill="#00ff00"/><rect x="149.69" y="272.00" width="5.91" height="5.85" fill="#00ffff"/><rect x="43.10" y="277.55" width="5.91" height="5.85" fill="#00ffff"/><rect x="48.71" y="277.55" width="5.91" height="5.85" fill="#00ff00"/><rect x="54.32" y="277.55" width="5.91" height="5.85" fill="#ff0000"/><rect x="59.93" y="277.55" width="5.91" height="5.85" fill="#00ffff"/><rect x="65.54" y="277.55" width="5.91" height="5.85" fill="#9200ff"/><rect x="71.15" y="277.55" width="5.91" height="5.85" fill="#00ff00"/><rect x="76.76" y="277.55" width="5.91" height="5.85" fill="#00ff00"/><rect x="82.37" y="277.55" width="5.91" height="5.85" fill="#00ff00"/><rect x="87.98" y="277.55" width="5.91" height="5.85" fill="#ff0000"/><rect x="93.59" y="277.55" width="5.91" height="5.85" fill="#00ffff"/><rect x="99.20" y="277.55" width="5.91" height="5.85" fill="#00ffff"/><rect x="104.81" y="277.55" width="5.91" height="5.85" fill="#9200ff"/><rect x="110.42" y="277.55" width="5.91" height="5.85" fill="#ff0000"/><rect x="116.03" y="277.55" width="5.91" height="5.85" fill="#ff0000"/><rect x="121.64" y="277.55" width="5.91" height="5.85" fill="#00ffff"/><rect x="127.25" y="277.55" width="5.91" height="5.85" fill="#00ff00"/><rect x="132.86" y="277.55" width="5.91" height="5.85" fill="#9200ff"/><rect x="138.47" y="277.55" width="5.91" height="5.85" fill="#00ff00"/><rect x="144.08" y="277.55" width="5.91" height="5.85" fill="#00ffff"/><rect x="149.69" y="277.55" width="5.91" height="5.85" fill="#9200ff"/><rect x="43.10" y="283.10" width="5.91" height="5.85" fill="#00ff00"/><rect x="48.71" y="283.10" width="5.91" height="5.85" fill="#00ffff"/><rect x="54.32" y="283.10" width="5.91" height="5.85" fill="#ff0000"/><rect x="59.93" y="283.10" width="5.91" height="5.85" fill="#00ffff"/><rect x="65.54" y="283.10" width="5.91" height="5.85" fill="#00ffff"/><rect x="71.15" y="283.10" width="5.91" height="5.85" fill="#ff0000"/><rect x="76.76" y="283.10" width="5.91" height="5.85" fill="#ff0000"/><rect x="82.37" y="283.10" width="5.91" height="5.85" fill="#00ff00"/><rect x="87.98" y="283.10" width="5.91" height="5.85" fill="#ff0000"/><rect x="93.59" y="283.10" width="5.91" height="5.85" fill="#ff0000"/><rect x="99.20" y="283.10" width="5.91" height="5.85" fill="#00ffff"/><rect x="104.81" y="283.10" width="5.91" height="5.85" fill="#9200ff"/><rect x="110.42" y="283.10" width="5.91" height="5.85" fill="#00ffff"/><rect x="116.03" y="283.10" width="5.91" height="5.85" fill="#ff0000"/><rect x="121.64" y="283.10" width="5.91" height="5.85" fill="#00ffff"/><rect x="127.25" y="283.10" width="5.91" height="5.85" fill="#00ff00"/><rect x="132.86" y="283.10" width="5.91" height="5.85" fill="#9200ff"/><rect x="138.47" y="283.10" width="5.91" height="5.85" fill="#00ffff"/><rect x="144.08" y="283.10" width="5.91" height="5.85" fill="#9200ff"/><rect x="149.69" y="283.10" width="5.91" height="5.85" fill="#ff0000"/><rect x="43.10" y="288.65" width="5.91" height="5.85" fill="#00ff00"/><rect x="48.71" y="288.65" width="5.91" height="5.85" fill="#9200ff"/><rect x="54.32" y="288.65" width="5.91" height="5.85" fill="#00ff00"/><rect x="59.93" y="288.65" width="5.91" height="5.85" fill="#ff0000"/><rect x="65.54" y="288.65" width="5.91" height="5.85" fill="#00ff00"/><rect x="71.15" y="288.65" width="5.91" height="5.85" fill="#9200ff"/><rect x="76.76" y="288.65" width="5.91" height="5.85" fill="#ff0000"/><rect x="82.37" y="288.65" width="5.91" height="5.85" fill="#ff0000"/><rect x="87.98" y="288.65" width="5.91" height="5.85" fill="#00ffff"/><rect x="93.59" y="288.65" width="5.91" height="5.85" fill="#ff0000"/><rect x="99.20" y="288.65" width="5.91" height="5.85" fill="#ff0000"/><rect x="104.81" y="288.65" width="5.91" height="5.85" fill="#ff0000"/><rect x="110.42" y="288.65" width="5.91" height="5.85" fill="#00ff00"/><rect x="116.03" y="288.65" width="5.91" height="5.85" fill="#9200ff"/><rect x="121.64" y="288.65" width="5.91" height="5.85" fill="#ff0000"/><rect x="127.25" y="288.65" width="5.91" height="5.85" fill="#00ff00"/><rect x="132.86" y="288.65" width="5.91" height="5.85" fill="#9200ff"/><rect x="138.47" y="288.65" width="5.91" height="5.85" fill="#00ffff"/><rect x="144.08" y="288.65" width="5.91" height="5.85" fill="#9200ff"/><rect x="149.69" y="288.65" width="5.91" height="5.85" fill="#00ffff"/><rect x="43.10" y="294.20" width="5.91" height="5.85" fill="#00ff00"/><rect x="48.71" y="294.20" width="5.91" height="5.85" fill="#9200ff"/><rect x="54.32" y="294.20" width="5.91" height="5.85" fill="#9200ff"/><rect x="59.93" y="294.20" width="5.91" height="5.85" fill="#00ff00"/><rect x="65.54" y="294.20" width="5.91" height="5.85" fill="#00ff00"/><rect x="71.15" y="294.20" width="5.91" height="5.85" fill="#9200ff"/><rect x="76.76" y="294.20" width="5.91" height="5.85" fill="#ff0000"/><rect x="82.37" y="294.20" width="5.91" height="5.85" fill="#ff0000"/><rect x="87.98" y="294.20" width="5.91" height="5.85" fill="#00ff00"/><rect x="93.59" y="294.20" width="5.91" height="5.85" fill="#9200ff"/><rect x="99.20" y="294.20" width="5.91" height="5.85" fill="#ff0000"/><rect x="104.81" y="294.20" width="5.91" height="5.85" fill="#00ffff"/><rect x="110.42" y="294.20" width="5.91" height="5.85" fill="#00ff00"/><rect x="116.03" y="294.20" width="5.91" height="5.85" fill="#00ff00"/><rect x="121.64" y="294.20" width="5.91" height="5.85" fill="#9200ff"/><rect x="127.25" y="294.20" width="5.91" height="5.85" fill="#00ff00"/><rect x="132.86" y="294.20" width="5.91" height="5.85" fill="#00ffff"/><rect x="138.47" y="294.20" width="5.91" height="5.85" fill="#9200ff"/><rect x="144.08" y="294.20" width="5.91" height="5.85" fill="#ff0000"/><rect x="149.69" y="294.20" width="5.91" height="5.85" fill="#00ff00"/><rect x="43.10" y="299.75" width="5.91" height="5.85" fill="#ff0000"/><rect x="48.71" y="299.75" width="5.91" height="5.85" fill="#ff0000"/><rect x="54.32" y="299.75" width="5.91" height="5.85" fill="#00ff00"/><rect x="59.93" y="299.75" width="5.91" height="5.85" fill="#9200ff"/><rect x="65.54" y="299.75" width="5.91" height="5.85" fill="#00ff00"/><rect x="71.15" y="299.75" width="5.91" height="5.85" fill="#00ff00"/><rect x="76.76" y="299.75" width="5.91" height="5.85" fill="#00ff00"/><rect x="82.37" y="299.75" width="5.91" height="5.85" fill="#00ffff"/><rect x="87.98" y="299.75" width="5.91" height="5.85" fill="#00ff00"/><rect x="93.59" y="299.75" width="5.91" height="5.85" fill="#00ffff"/><rect x="99.20" y="299.75" width="5.91" height="5.85" fill="#00ff00"/><rect x="104.81" y="299.75" width="5.91" height="5.85" fill="#00ffff"/><rect x="110.42" y="299.75" width="5.91" height="5.85" fill="#00ffff"/><rect x="116.03" y="299.75" width="5.91" height="5.85" fill="#9200ff"/><rect x="121.64" y="299.75" width="5.91" height="5.85" fill="#ff0000"/><rect x="127.25" y="299.75" width="5.91" height="5.85" fill="#00ffff"/><rect x="132.86" y="299.75" width="5.91" height="5.85" fill="#ff0000"/><rect x="138.47" y="299.75" width="5.91" height="5.85" fill="#9200ff"/><rect x="144.08" y="299.75" width="5.91" height="5.85" fill="#ff0000"/><rect x="149.69" y="299.75" width="5.91" height="5.85" fill="#00ff00"/><rect x="43.10" y="305.30" width="5.91" height="5.85" fill="#9200ff"/><rect x="48.71" y="305.30" width="5.91" height="5.85" fill="#ff0000"/><rect x="54.32" y="305.30" width="5.91" height="5.85" fill="#00ffff"/><rect x="59.93" y="305.30" width="5.91" height="5.85" fill="#ff0000"/><rect x="65.54" y="305.30" width="5.91" height="5.85" fill="#00ffff"/><rect x="71.15" y="305.30" width="5.91" height="5.85" fill="#00ff00"/><rect x="76.76" y="305.30" width="5.91" height="5.85" fill="#9200ff"/><rect x="82.37" y="305.30" width="5.91" height="5.85" fill="#ff0000"/><rect x="87.98" y="305.30" width="5.91" height="5.85" fill="#9200ff"/><rect x="93.59" y="305.30" width="5.91" height="5.85" fill="#00ff00"/><rect x="99.20" y="305.30" width="5.91" height="5.85" fill="#00ffff"/><rect x="104.81" y="305.30" width="5.91" height="5.85" fill="#00ff00"/><rect x="110.42" y="305.30" width="5.91" height="5.85" fill="#00ff00"/><rect x="116.03" y="305.30" width="5.91" height="5.85" fill="#00ff00"/><rect x="121.64" y="305.30" width="5.91" height="5.85" fill="#ff0000"/><rect x="127.25" y="305.30" width="5.91" height="5.85" fill="#ff0000"/><rect x="132.86" y="305.30" width="5.91" height="5.85" fill="#00ffff"/><rect x="138.47" y="305.30" width="5.91" height="5.85" fill="#ff0000"/><rect x="144.08" y="305.30" width="5.91" height="5.85" fill="#ff0000"/><rect x="149.69" y="305.30" width="5.91" height="5.85" fill="#9200ff"/><rect x="43.10" y="310.85" width="5.91" height="5.85" fill="#ff0000"/><rect x="48.71" y="310.85" width="5.91" height="5.85" fill="#ff0000"/><rect x="54.32" y="310.85" width="5.91" height="5.85" fill="#9200ff"/><rect x="59.93" y="310.85" width="5.91" height="5.85" fill="#00ff00"/><rect x="65.54" y="310.85" width="5.91" height="5.85" fill="#9200ff"/><rect x="71.15" y="310.85" width="5.91" height="5.85" fill="#00ffff"/><rect x="76.76" y="310.85" width="5.91" height="5.85" fill="#ff0000"/><rect x="82.37" y="310.85" width="5.91" height="5.85" fill="#00ffff"/><rect x="87.98" y="310.85" width="5.91" height="5.85" fill="#9200ff"/><rect x="93.59" y="310.85" width="5.91" height="5.85" fill="#9200ff"/><rect x="99.20" y="310.85" width="5.91" height="5.85" fill="#00ff00"/><rect x="104.81" y="310.85" width="5.91" height="5.85" fill="#9200ff"/><rect x="110.42" y="310.85" width="5.91" height="5.85" fill="#00ff00"/><rect x="116.03" y="310.85" width="5.91" height="5.85" fill="#00ff00"/><rect x="121.64" y="310.85" width="5.91" height="5.85" fill="#00ff00"/><rect x="127.25" y="310.85" width="5.91" height="5.85" fill="#ff0000"/><rect x="132.86" y="310.85" width="5.91" height="5.85" fill="#ff0000"/><rect x="138.47" y="310.85" width="5.91" height="5.85" fill="#00ff00"/><rect x="144.08" y="310.85" width="5.91" height="5.85" fill="#00ffff"/><rect x="149.69" y="310.85" width="5.91" height="5.85" fill="#00ff00"/></g>
<rect x="41" y="205" width="117.6" height="111.6" fill="none" stroke="#444" stroke-width="1"/>
<line x1="41" y1="216.2" x2="42.5" y2="216.2" stroke="#444" stroke-width="0.8"/>
<line x1="158.6" y1="216.2" x2="157.1" y2="216.2" stroke="#444" stroke-width="0.8"/>
<line x1="41" y1="227.3" x2="42.5" y2="227.3" stroke="#444" stroke-width="0.8"/>
<line x1="158.6" y1="227.3" x2="157.1" y2="227.3" stroke="#444" stroke-width="0.8"/>
<line x1="41" y1="238.5" x2="42.5" y2="238.5" stroke="#444" stroke-width="0.8"/>
<line x1="158.6" y1="238.5" x2="157.1" y2="238.5" stroke="#444" stroke-width="0.8"/>
<line x1="41" y1="249.6" x2="42.5" y2="249.6" stroke="#444" stroke-width="0.8"/>
<line x1="158.6" y1="249.6" x2="157.1" y2="249.6" stroke="#444" stroke-width="0.8"/>
<line x1="41" y1="260.8" x2="42.5" y2="260.8" stroke="#444" stroke-width="0.8"/>
<line x1="158.6" y1="260.8" x2="157.1" y2="260.8" stroke="#444" stroke-width="0.8"/>
<line x1="41" y1="272.0" x2="42.5" y2="272.0" stroke="#444" stroke-width="0.8"/>
<line x1="158.6" y1="272.0" x2="157.1" y2="272.0" stroke="#444" stroke-width="0.8"/>
<line x1="41" y1="283.1" x2="42.5" y2="283.1" stroke="#444" stroke-width="0.8"/>
<line x1="158.6" y1="283.1" x2="157.1" y2="283.1" stroke="#444" stroke-width="0.8"/>
<line x1="41" y1="294.3" x2="42.5" y2="294.3" stroke="#444" stroke-width="0.8"/>
<line x1="158.6" y1="294.3" x2="157.1" y2="294.3" stroke="#444" stroke-width="0.8"/>
<line x1="41" y1="305.4" x2="42.5" y2="305.4" stroke="#444" stroke-width="0.8"/>
<line x1="158.6" y1="305.4" x2="157.1" y2="305.4" stroke="#444" stroke-width="0.8"/>
<text x="56.9" y="198.2" textLength="85.8" lengthAdjust="spacingAndGlyphs">2-bit phase distribution</text>
<text x="36" y="207.4" text-anchor="end">10</text>
<text x="36" y="262.7" text-anchor="end">0</text>
<text x="37.5" y="319.1" text-anchor="end">-10</text>
<text x="41" y="327.1" text-anchor="middle">-10</text>
<text x="99.8" y="327.4" text-anchor="middle">0</text>
<text x="156.0" y="327.4" text-anchor="middle">10</text>
<text x="43.5" y="337.6" textLength="112.3" lengthAdjust="spacingAndGlyphs">The Nth element on the x-axis</text>
<text x="23.099999999999998" y="258.8" text-anchor="middle" textLength="112" lengthAdjust="spacingAndGlyphs" transform="rotate(-90 23.099999999999998 258.8)">The Nth element on the y-axis</text>
<text x="97.9" y="351.3" text-anchor="middle">(d)</text>
<g shape-rendering="crispEdges"><rect x="217.20" y="205.90" width="5.91" height="5.85" fill="#ffb000"/><rect x="222.81" y="205.90" width="5.91" height="5.85" fill="#ffb000"/><rect x="228.42" y="205.90" width="5.91" height="5.85" fill="#00ff00"/><rect x="234.03" y="205.90" width="5.91" height="5.85" fill="#00ff00"/><rect x="239.64" y="205.90" width="5.91" height="5.85" fill="#9200ff"/><rect x="245.25" y="205.90" width="5.91" height="5.85" fill="#00ff00"/><rect x="250.86" y="205.90" width="5.91" height="5.85" fill="#ff00c0"/><rect x="256.47" y="205.90" width="5.91" height="5.85" fill="#00ff00"/><rect x="262.08" y="205.90" width="5.91" height="5.85" fill="#00ffff"/><rect x="267.69" y="205.90" width="5.91" height="5.85" fill="#00ff00"/><rect x="273.30" y="205.90" width="5.91" height="5.85" fill="#ff00c0"/><rect x="278.91" y="205.90" width="5.91" height="5.85" fill="#ff00c0"/><rect x="284.52" y="205.90" width="5.91" height="5.85" fill="#00ff00"/><rect x="290.13" y="205.90" width="5.91" height="5.85" fill="#00ffff"/><rect x="295.74" y="205.90" width="5.91" height="5.85" fill="#ff0000"/><rect x="301.35" y="205.90" width="5.91" height="5.85" fill="#00ff00"/><rect x="306.96" y="205.90" width="5.91" height="5.85" fill="#ff00c0"/><rect x="312.57" y="205.90" width="5.91" height="5.85" fill="#9200ff"/><rect x="318.18" y="205.90" width="5.91" height="5.85" fill="#00ff00"/><rect x="323.79" y="205.90" width="5.91" height="5.85" fill="#00ffff"/><rect x="217.20" y="211.46" width="5.91" height="5.85" fill="#0040ff"/><rect x="222.81" y="211.46" width="5.91" height="5.85" fill="#9200ff"/><rect x="228.42" y="211.46" width="5.91" height="5.85" fill="#ff00c0"/><rect x="234.03" y="211.46" width="5.91" height="5.85" fill="#9200ff"/><rect x="239.64" y="211.46" width="5.91" height="5.85" fill="#00ffff"/><rect x="245.25" y="211.46" width="5.91" height="5.85" fill="#00ff00"/><rect x="250.86" y="211.46" width="5.91" height="5.85" fill="#ffb000"/><rect x="256.47" y="211.46" width="5.91" height="5.85" fill="#9200ff"/><rect x="262.08" y="211.46" width="5.91" height="5.85" fill="#ff0000"/><rect x="267.69" y="211.46" width="5.91" height="5.85" fill="#9200ff"/><rect x="273.30" y="211.46" width="5.91" height="5.85" fill="#0040ff"/><rect x="278.91" y="211.46" width="5.91" height="5.85" fill="#00ff00"/><rect x="284.52" y="211.46" width="5.91" height="5.85" fill="#00ff00"/><rect x="290.13" y="211.46" width="5.91" height="5.85" fill="#0040ff"/><rect x="295.74" y="211.46" width="5.91" height="5.85" fill="#00ff00"/><rect x="301.35" y="211.46" width="5.91" height="5.85" fill="#00ff00"/><rect x="306.96" y="211.46" width="5.91" height="5.85" fill="#ff0000"/><rect x="312.57" y="211.46" width="5.91" height="5.85" fill="#ff00c0"/><rect x="318.18" y="211.46" width="5.91" height="5.85" fill="#9200ff"/><rect x="323.79" y="211.46" width="5.91" height="5.85" fill="#00ffff"/><rect x="217.20" y="217.01" width="5.91" height="5.85" fill="#0040ff"/><rect x="222.81" y="217.01" width="5.91" height="5.85" fill="#00ff00"/><rect x="228.42" y="217.01" width="5.91" height="5.85" fill="#ffb000"/><rect x="234.03" y="217.01" width="5.91" height="5.85" fill="#ff00c0"/><rect x="239.64" y="217.01" width="5.91" height="5.85" fill="#ff0000"/><rect x="245.25" y="217.01" width="5.91" height="5.85" fill="#ff0000"/><rect x="250.86" y="217.01" width="5.91" height="5.85" fill="#00ff00"/><rect x="256.47" y="217.01" width="5.91" height="5.85" fill="#00ff00"/><rect x="262.08" y="217.01" width="5.91" height="5.85" fill="#00ff00"/><rect x="267.69" y="217.01" width="5.91" height="5.85" fill="#00ffff"/><rect x="273.30" y="217.01" width="5.91" height="5.85" fill="#00ff00"/><rect x="278.91" y="217.01" width="5.91" height="5.85" fill="#00ff00"/><rect x="284.52" y="217.01" width="5.91" height="5.85" fill="#ff00c0"/><rect x="290.13" y="217.01" width="5.91" height="5.85" fill="#ff00c0"/><rect x="295.74" y="217.01" width="5.91" height="5.85" fill="#00ffff"/><rect x="301.35" y="217.01" width="5.91" height="5.85" fill="#ff0000"/><rect x="306.96" y="217.01" width="5.91" height="5.85" fill="#00ffff"/><rect x="312.57" y="217.01" width="5.91" height="5.85" fill="#9200ff"/><rect x="318.18" y="217.01" width="5.91" height="5.85" fill="#ff0000"/><rect x="323.79" y="217.01" width="5.91" height="5.85" fill="#00ffff"/><rect x="217.20" y="222.56" width="5.91" height="5.85" fill="#ffb000"/><rect x="222.81" y="222.56" width="5.91" height="5.85" fill="#00ff00"/><rect x="228.42" y="222.56" width="5.91" height="5.85" fill="#00ff00"/><rect x="234.03" y="222.56" width="5.91" height="5.85" fill="#ff0000"/><rect x="239.64" y="222.56" width="5.91" height="5.85" fill="#00ffff"/><rect x="245.25" y="222.56" width="5.91" height="5.85" fill="#9200ff"/><rect x="250.86" y="222.56" width="5.91" height="5.85" fill="#00ff00"/><rect x="256.47" y="222.56" width="5.91" height="5.85" fill="#00ff00"/><rect x="262.08" y="222.56" width="5.91" height="5.85" fill="#0040ff"/><rect x="267.69" y="222.56" width="5.91" height="5.85" fill="#9200ff"/><rect x="273.30" y="222.56" width="5.91" height="5.85" fill="#00ffff"/><rect x="278.91" y="222.56" width="5.91" height="5.85" fill="#9200ff"/><rect x="284.52" y="222.56" width="5.91" height="5.85" fill="#ff0000"/><rect x="290.13" y="222.56" width="5.91" height="5.85" fill="#9200ff"/><rect x="295.74" y="222.56" width="5.91" height="5.85" fill="#00ffff"/><rect x="301.35" y="222.56" width="5.91" height="5.85" fill="#00ff00"/><rect x="306.96" y="222.56" width="5.91" height="5.85" fill="#00ff00"/><rect x="312.57" y="222.56" width="5.91" height="5.85" fill="#ff0000"/><rect x="318.18" y="222.56" width="5.91" height="5.85" fill="#00ff00"/><rect x="323.79" y="222.56" width="5.91" height="5.85" fill="#ff0000"/><rect x="217.20" y="228.12" width="5.91" height="5.85" fill="#ff00c0"/><rect x="222.81" y="228.12" width="5.91" height="5.85" fill="#9200ff"/><rect x="228.42" y="228.12" width="5.91" height="5.85" fill="#ff00c0"/><rect x="234.03" y="228.12" width="5.91" height="5.85" fill="#9200ff"/><rect x="239.64" y="228.12" width="5.91" height="5.85" fill="#ff00c0"/><rect x="245.25" y="228.12" width="5.91" height="5.85" fill="#9200ff"/><rect x="250.86" y="228.12" width="5.91" height="5.85" fill="#ffb000"/><rect x="256.47" y="228.12" width="5.91" height="5.85" fill="#00ff00"/><rect x="262.08" y="228.12" width="5.91" height="5.85" fill="#00ff00"/><rect x="267.69" y="228.12" width="5.91" height="5.85" fill="#00ff00"/><rect x="273.30" y="228.12" width="5.91" height="5.85" fill="#ffb000"/><rect x="278.91" y="228.12" width="5.91" height="5.85" fill="#00ffff"/><rect x="284.52" y="228.12" width="5.91" height="5.85" fill="#00ff00"/><rect x="290.13" y="228.12" width="5.91" height="5.85" fill="#00ffff"/><rect x="295.74" y="228.12" width="5.91" height="5.85" fill="#00ff00"/><rect x="301.35" y="228.12" width="5.91" height="5.85" fill="#9200ff"/><rect x="306.96" y="228.12" width="5.91" height="5.85" fill="#00ff00"/><rect x="312.57" y="228.12" width="5.91" height="5.85" fill="#ffb000"/><rect x="318.18" y="228.12" width="5.91" height="5.85" fill="#00ff00"/><rect x="323.79" y="228.12" width="5.91" height="5.85" fill="#00ff00"/><rect x="217.20" y="233.68" width="5.91" height="5.85" fill="#ffb000"/><rect x="222.81" y="233.68" width="5.91" height="5.85" fill="#ff0000"/><rect x="228.42" y="233.68" width="5.91" height="5.85" fill="#9200ff"/><rect x="234.03" y="233.68" width="5.91" height="5.85" fill="#ff0000"/><rect x="239.64" y="233.68" width="5.91" height="5.85" fill="#ff0000"/><rect x="245.25" y="233.68" width="5.91" height="5.85" fill="#ffb000"/><rect x="250.86" y="233.68" width="5.91" height="5.85" fill="#00ffff"/><rect x="256.47" y="233.68" width="5.91" height="5.85" fill="#00ffff"/><rect x="262.08" y="233.68" width="5.91" height="5.85" fill="#00ffff"/><rect x="267.69" y="233.68" width="5.91" height="5.85" fill="#ff0000"/><rect x="273.30" y="233.68" width="5.91" height="5.85" fill="#ff0000"/><rect x="278.91" y="233.68" width="5.91" height="5.85" fill="#9200ff"/><rect x="284.52" y="233.68" width="5.91" height="5.85" fill="#ff00c0"/><rect x="290.13" y="233.68" width="5.91" height="5.85" fill="#9200ff"/><rect x="295.74" y="233.68" width="5.91" height="5.85" fill="#00ff00"/><rect x="301.35" y="233.68" width="5.91" height="5.85" fill="#00ff00"/><rect x="306.96" y="233.68" width="5.91" height="5.85" fill="#00ff00"/><rect x="312.57" y="233.68" width="5.91" height="5.85" fill="#ffb000"/><rect x="318.18" y="233.68" width="5.91" height="5.85" fill="#00ffff"/><rect x="323.79" y="233.68" width="5.91" height="5.85" fill="#00ffff"/><rect x="217.20" y="239.23" width="5.91" height="5.85" fill="#00ff00"/><rect x="222.81" y="239.23" width="5.91" height="5.85" fill="#9200ff"/><rect x="228.42" y="239.23" width="5.91" height="5.85" fill="#00ff00"/><rect x="234.03" y="239.23" width="5.91" height="5.85" fill="#ff00c0"/><rect x="239.64" y="239.23" width="5.91" height="5.85" fill="#ff00c0"/><rect x="245.25" y="239.23" width="5.91" height="5.85" fill="#9200ff"/><rect x="250.86" y="239.23" width="5.91" height="5.85" fill="#9200ff"/><rect x="256.47" y="239.23" width="5.91" height="5.85" fill="#ffb000"/><rect x="262.08" y="239.23" width="5.91" height="5.85" fill="#00ff00"/><rect x="267.69" y="239.23" width="5.91" height="5.85" fill="#00ffff"/><rect x="273.30" y="239.23" width="5.91" height="5.85" fill="#0040ff"/><rect x="278.91" y="239.23" width="5.91" height="5.85" fill="#00ffff"/><rect x="284.52" y="239.23" width="5.91" height="5.85" fill="#00ff00"/><rect x="290.13" y="239.23" width="5.91" height="5.85" fill="#00ff00"/><rect x="295.74" y="239.23" width="5.91" height="5.85" fill="#ffb000"/><rect x="301.35" y="239.23" width="5.91" height="5.85" fill="#00ffff"/><rect x="306.96" y="239.23" width="5.91" height="5.85" fill="#ffb000"/><rect x="312.57" y="239.23" width="5.91" height="5.85" fill="#ff0000"/><rect x="318.18" y="239.23" width="5.91" height="5.85" fill="#00ff00"/><rect x="323.79" y="239.23" width="5.91" height="5.85" fill="#00ff00"/><rect x="217.20" y="244.78" width="5.91" height="5.85" fill="#9200ff"/><rect x="222.81" y="244.78" width="5.91" height="5.85" fill="#00ffff"/><rect x="228.42" y="244.78" width="5.91" height="5.85" fill="#9200ff"/><rect x="234.03" y="244.78" width="5.91" height="5.85" fill="#ff00c0"/><rect x="239.64" y="244.78" width="5.91" height="5.85" fill="#ffb000"/><rect x="245.25" y="244.78" width="5.91" height="5.85" fill="#00ff00"/><rect x="250.86" y="244.78" width="5.91" height="5.85" fill="#ffb000"/><rect x="256.47" y="244.78" width="5.91" height="5.85" fill="#ff00c0"/><rect x="262.08" y="244.78" width="5.91" height="5.85" fill="#ffb000"/><rect x="267.69" y="244.78" width="5.91" height="5.85" fill="#ff00c0"/><rect x="273.30" y="244.78" width="5.91" height="5.85" fill="#ffb000"/><rect x="278.91" y="244.78" width="5.91" height="5.85" fill="#00ff00"/><rect x="284.52" y="244.78" width="5.91" height="5.85" fill="#ffb000"/><rect x="290.13" y="244.78" width="5.91" height="5.85" fill="#ff00c0"/><rect x="295.74" y="244.78" width="5.91" height="5.85" fill="#00ff00"/><rect x="301.35" y="244.78" width="5.91" height="5.85" fill="#00ffff"/><rect x="306.96" y="244.78" width="5.91" height="5.85" fill="#00ffff"/><rect x="312.57" y="244.78" width="5.91" height="5.85" fill="#00ff00"/><rect x="318.18" y="244.78" width="5.91" height="5.85" fill="#00ff00"/><rect x="323.79" y="244.78" width="5.91" height="5.85" fill="#ff0000"/><rect x="217.20" y="250.34" width="5.91" height="5.85" fill="#00ffff"/><rect x="222.81" y="250.34" width="5.91" height="5.85" fill="#0040ff"/><rect x="228.42" y="250.34" width="5.91" height="5.85" fill="#ff00c0"/><rect x="234.03" y="250.34" width="5.91" height="5.85" fill="#00ff00"/><rect x="239.64" y="250.34" width="5.91" height="5.85" fill="#00ffff"/><rect x="245.25" y="250.34" width="5.91" height="5.85" fill="#ffb000"/><rect x="250.86" y="250.34" width="5.91" height="5.85" fill="#00ff00"/><rect x="256.47" y="250.34" width="5.91" height="5.85" fill="#ff0000"/><rect x="262.08" y="250.34" width="5.91" height="5.85" fill="#9200ff"/><rect x="267.69" y="250.34" width="5.91" height="5.85" fill="#9200ff"/><rect x="273.30" y="250.34" width="5.91" height="5.85" fill="#ffb000"/><rect x="278.91" y="250.34" width="5.91" height="5.85" fill="#00ff00"/><rect x="284.52" y="250.34" width="5.91" height="5.85" fill="#ffb000"/><rect x="290.13" y="250.34" width="5.91" height="5.85" fill="#ff00c0"/><rect x="295.74" y="250.34" width="5.91" height="5.85" fill="#00ff00"/><rect x="301.35" y="250.34" width="5.91" height="5.85" fill="#00ffff"/><rect x="306.96" y="250.34" width="5.91" height="5.85" fill="#00ffff"/><rect x="312.57" y="250.34" width="5.91" height="5.85" fill="#ffb000"/><rect x="318.18" y="250.34" width="5.91" height="5.85" fill="#9200ff"/><rect x="323.79" y="250.34" width="5.91" height="5.85" fill="#ffb000"/><rect x="217.20" y="255.90" width="5.91" height="5.85" fill="#00ff00"/><rect x="222.81" y="255.90" width="5.91" height="5.85" fill="#ffb000"/><rect x="228.42" y="255.90" width="5.91" height="5.85" fill="#ff0000"/><rect x="234.03" y="255.90" width="5.91" height="5.85" fill="#00ff00"/><rect x="239.64" y="255.90" width="5.91" height="5.85" fill="#00ff00"/><rect x="245.25" y="255.90" width="5.91" height="5.85" fill="#ff00c0"/><rect x="250.86" y="255.90" width="5.91" height="5.85" fill="#00ff00"/><rect x="256.47" y="255.90" width="5.91" height="5.85" fill="#ffb000"/><rect x="262.08" y="255.90" width="5.91" height="5.85" fill="#ff0000"/><rect x="267.69" y="255.90" width="5.91" height="5.85" fill="#00ffff"/><rect x="273.30" y="255.90" width="5.91" height="5.85" fill="#0040ff"/><rect x="278.91" y="255.90" width="5.91" height="5.85" fill="#00ff00"/><rect x="284.52" y="255.90" width="5.91" height="5.85" fill="#ffb000"/><rect x="290.13" y="255.90" width="5.91" height="5.85" fill="#ffb000"/><rect x="295.74" y="255.90" width="5.91" height="5.85" fill="#ff0000"/><rect x="301.35" y="255.90" width="5.91" height="5.85" fill="#00ffff"/><rect x="306.96" y="255.90" width="5.91" height="5.85" fill="#9200ff"/><rect x="312.57" y="255.90" width="5.91" height="5.85" fill="#ff0000"/><rect x="318.18" y="255.90" width="5.91" height="5.85" fill="#ffb000"/><rect x="323.79" y="255.90" width="5.91" height="5.85" fill="#00ff00"/><rect x="217.20" y="261.45" width="5.91" height="5.85" fill="#ff0000"/><rect x="222.81" y="261.45" width="5.91" height="5.85" fill="#00ff00"/><rect x="228.42" y="261.45" width="5.91" height="5.85" fill="#00ff00"/><rect x="234.03" y="261.45" width="5.91" height="5.85" fill="#9200ff"/><rect x="239.64" y="261.45" width="5.91" height="5.85" fill="#0040ff"/><rect x="245.25" y="261.45" width="5.91" height="5.85" fill="#ffb000"/><rect x="250.86" y="261.45" width="5.91" height="5.85" fill="#0040ff"/><rect x="256.47" y="261.45" width="5.91" height="5.85" fill="#00ff00"/><rect x="262.08" y="261.45" width="5.91" height="5.85" fill="#00ff00"/><rect x="267.69" y="261.45" width="5.91" height="5.85" fill="#ffb000"/><rect x="273.30" y="261.45" width="5.91" height="5.85" fill="#0040ff"/><rect x="278.91" y="261.45" width="5.91" height="5.85" fill="#ffb000"/><rect x="284.52" y="261.45" width="5.91" height="5.85" fill="#9200ff"/><rect x="290.13" y="261.45" width="5.91" height="5.85" fill="#0040ff"/><rect x="295.74" y="261.45" width="5.91" height="5.85" fill="#ff0000"/><rect x="301.35" y="261.45" width="5.91" height="5.85" fill="#00ff00"/><rect x="306.96" y="261.45" width="5.91" height="5.85" fill="#ff00c0"/><rect x="312.57" y="261.45" width="5.91" height="5.85" fill="#00ff00"/><rect x="318.18" y="261.45" width="5.91" height="5.85" fill="#ffb000"/><rect x="323.79" y="261.45" width="5.91" height="5.85" fill="#ff00c0"/><rect x="217.20" y="267.00" width="5.91" height="5.85" fill="#00ff00"/><rect x="222.81" y="267.00" width="5.91" height="5.85" fill="#ffb000"/><rect x="228.42" y="267.00" width="5.91" height="5.85" fill="#0040ff"/><rect x="234.03" y="267.00" width="5.91" height="5.85" fill="#0040ff"/><rect x="239.64" y="267.00" width="5.91" height="5.85" fill="#9200ff"/><rect x="245.25" y="267.00" width="5.91" height="5.85" fill="#ff00c0"/><rect x="250.86" y="267.00" width="5.91" height="5.85" fill="#ff00c0"/><rect x="256.47" y="267.00" width="5.91" height="5.85" fill="#00ffff"/><rect x="262.08" y="267.00" width="5.91" height="5.85" fill="#00ff00"/><rect x="267.69" y="267.00" width="5.91" height="5.85" fill="#9200ff"/><rect x="273.30" y="267.00" width="5.91" height="5.85" fill="#0040ff"/><rect x="278.91" y="267.00" width="5.91" height="5.85" fill="#ffb000"/><rect x="284.52" y="267.00" width="5.91" height="5.85" fill="#9200ff"/><rect x="290.13" y="267.00" width="5.91" height="5.85" fill="#00ff00"/><rect x="295.74" y="267.00" width="5.91" height="5.85" fill="#00ff00"/><rect x="301.35" y="267.00" width="5.91" height="5.85" fill="#ff00c0"/><rect x="306.96" y="267.00" width="5.91" height="5.85" fill="#ff0000"/><rect x="312.57" y="267.00" width="5.91" height="5.85" fill="#00ffff"/><rect x="318.18" y="267.00" width="5.91" height="5.85" fill="#ff0000"/><rect x="323.79" y="267.00" width="5.91" height="5.85" fill="#ffb000"/><rect x="217.20" y="272.56" width="5.91" height="5.85" fill="#00ff00"/><rect x="222.81" y="272.56" width="5.91" height="5.85" fill="#ffb000"/><rect x="228.42" y="272.56" width="5.91" height="5.85" fill="#00ff00"/><rect x="234.03" y="272.56" width="5.91" height="5.85" fill="#ff00c0"/><rect x="239.64" y="272.56" width="5.91" height="5.85" fill="#00ffff"/><rect x="245.25" y="272.56" width="5.91" height="5.85" fill="#9200ff"/><rect x="250.86" y="272.56" width="5.91" height="5.85" fill="#ffb000"/><rect x="256.47" y="272.56" width="5.91" height="5.85" fill="#9200ff"/><rect x="262.08" y="272.56" width="5.91" height="5.85" fill="#ff0000"/><rect x="267.69" y="272.56" width="5.91" height="5.85" fill="#00ff00"/><rect x="273.30" y="272.56" width="5.91" height="5.85" fill="#ff0000"/><rect x="278.91" y="272.56" width="5.91" height="5.85" fill="#00ff00"/><rect x="284.52" y="272.56" width="5.91" height="5.85" fill="#ff0000"/><rect x="290.13" y="272.56" width="5.91" height="5.85" fill="#9200ff"/><rect x="295.74" y="272.56" width="5.91" height="5.85" fill="#ff0000"/><rect x="301.35" y="272.56" width="5.91" height="5.85" fill="#00ffff"/><rect x="306.96" y="272.56" width="5.91" height="5.85" fill="#ff0000"/><rect x="312.57" y="272.56" width="5.91" height="5.85" fill="#00ff00"/><rect x="318.18" y="272.56" width="5.91" height="5.85" fill="#ffb000"/><rect x="323.79" y="272.56" width="5.91" height="5.85" fill="#9200ff"/><rect x="217.20" y="278.12" width="5.91" height="5.85" fill="#00ff00"/><rect x="222.81" y="278.12" width="5.91" height="5.85" fill="#ffb000"/><rect x="228.42" y="278.12" width="5.91" height="5.85" fill="#ff00c0"/><rect x="234.03" y="278.12" width="5.91" height="5.85" fill="#ff00c0"/><rect x="239.64" y="278.12" width="5.91" height="5.85" fill="#ff0000"/><rect x="245.25" y="278.12" width="5.91" height="5.85" fill="#ffb000"/><rect x="250.86" y="278.12" width="5.91" height="5.85" fill="#ff00c0"/><rect x="256.47" y="278.12" width="5.91" height="5.85" fill="#00ff00"/><rect x="262.08" y="278.12" width="5.91" height="5.85" fill="#00ff00"/><rect x="267.69" y="278.12" width="5.91" height="5.85" fill="#00ff00"/><rect x="273.30" y="278.12" width="5.91" height="5.85" fill="#00ffff"/><rect x="278.91" y="278.12" width="5.91" height="5.85" fill="#ff0000"/><rect x="284.52" y="278.12" width="5.91" height="5.85" fill="#ff00c0"/><rect x="290.13" y="278.12" width="5.91" height="5.85" fill="#9200ff"/><rect x="295.74" y="278.12" width="5.91" height="5.85" fill="#ff00c0"/><rect x="301.35" y="278.12" width="5.91" height="5.85" fill="#ffb000"/><rect x="306.96" y="278.12" width="5.91" height="5.85" fill="#ffb000"/><rect x="312.57" y="278.12" width="5.91" height="5.85" fill="#ffb000"/><rect x="318.18" y="278.12" width="5.91" height="5.85" fill="#ffb000"/><rect x="323.79" y="278.12" width="5.91" height="5.85" fill="#ff0000"/><rect x="217.20" y="283.67" width="5.91" height="5.85" fill="#9200ff"/><rect x="222.81" y="283.67" width="5.91" height="5.85" fill="#00ff00"/><rect x="228.42" y="283.67" width="5.91" height="5.85" fill="#ff0000"/><rect x="234.03" y="283.67" width="5.91" height="5.85" fill="#ff00c0"/><rect x="239.64" y="283.67" width="5.91" height="5.85" fill="#ff00c0"/><rect x="245.25" y="283.67" width="5.91" height="5.85" fill="#00ffff"/><rect x="250.86" y="283.67" width="5.91" height="5.85" fill="#0040ff"/><rect x="256.47" y="283.67" width="5.91" height="5.85" fill="#00ff00"/><rect x="262.08" y="283.67" width="5.91" height="5.85" fill="#0040ff"/><rect x="267.69" y="283.67" width="5.91" height="5.85" fill="#00ff00"/><rect x="273.30" y="283.67" width="5.91" height="5.85" fill="#00ff00"/><rect x="278.91" y="283.67" width="5.91" height="5.85" fill="#00ff00"/><rect x="284.52" y="283.67" width="5.91" height="5.85" fill="#00ffff"/><rect x="290.13" y="283.67" width="5.91" height="5.85" fill="#00ffff"/><rect x="295.74" y="283.67" width="5.91" height="5.85" fill="#ff00c0"/><rect x="301.35" y="283.67" width="5.91" height="5.85" fill="#00ff00"/><rect x="306.96" y="283.67" width="5.91" height="5.85" fill="#ffb000"/><rect x="312.57" y="283.67" width="5.91" height="5.85" fill="#ff00c0"/><rect x="318.18" y="283.67" width="5.91" height="5.85" fill="#9200ff"/><rect x="323.79" y="283.67" width="5.91" height="5.85" fill="#ff00c0"/><rect x="217.20" y="289.23" width="5.91" height="5.85" fill="#ff0000"/><rect x="222.81" y="289.23" width="5.91" height="5.85" fill="#00ff00"/><rect x="228.42" y="289.23" width="5.91" height="5.85" fill="#00ff00"/><rect x="234.03" y="289.23" width="5.91" height="5.85" fill="#ff0000"/><rect x="239.64" y="289.23" width="5.91" height="5.85" fill="#ff0000"/><rect x="245.25" y="289.23" width="5.91" height="5.85" fill="#ff00c0"/><rect x="250.86" y="289.23" width="5.91" height="5.85" fill="#00ffff"/><rect x="256.47" y="289.23" width="5.91" height="5.85" fill="#00ffff"/><rect x="262.08" y="289.23" width="5.91" height="5.85" fill="#ff00c0"/><rect x="267.69" y="289.23" width="5.91" height="5.85" fill="#00ffff"/><rect x="273.30" y="289.23" width="5.91" height="5.85" fill="#ffb000"/><rect x="278.91" y="289.23" width="5.91" height="5.85" fill="#ffb000"/><rect x="284.52" y="289.23" width="5.91" height="5.85" fill="#00ffff"/><rect x="290.13" y="289.23" width="5.91" height="5.85" fill="#ff0000"/><rect x="295.74" y="289.23" width="5.91" height="5.85" fill="#00ff00"/><rect x="301.35" y="289.23" width="5.91" height="5.85" fill="#00ff00"/><rect x="306.96" y="289.23" width="5.91" height="5.85" fill="#9200ff"/><rect x="312.57" y="289.23" width="5.91" height="5.85" fill="#00ff00"/><rect x="318.18" y="289.23" width="5.91" height="5.85" fill="#ff00c0"/><rect x="323.79" y="289.23" width="5.91" height="5.85" fill="#ff00c0"/><rect x="217.20" y="294.78" width="5.91" height="5.85" fill="#ffb000"/><rect x="222.81" y="294.78" width="5.91" height="5.85" fill="#ff00c0"/><rect x="228.42" y="294.78" width="5.91" height="5.85" fill="#9200ff"/><rect x="234.03" y="294.78" width="5.91" height="5.85" fill="#9200ff"/><rect x="239.64" y="294.78" width="5.91" height="5.85" fill="#00ff00"/><rect x="245.25" y="294.78" width="5.91" height="5.85" fill="#00ff00"/><rect x="250.86" y="294.78" width="5.91" height="5.85" fill="#ff00c0"/><rect x="256.47" y="294.78" width="5.91" height="5.85" fill="#ffb000"/><rect x="262.08" y="294.78" width="5.91" height="5.85" fill="#ff00c0"/><rect x="267.69" y="294.78" width="5.91" height="5.85" fill="#0040ff"/><rect x="273.30" y="294.78" width="5.91" height="5.85" fill="#ff00c0"/><rect x="278.91" y="294.78" width="5.91" height="5.85" fill="#ff0000"/><rect x="284.52" y="294.78" width="5.91" height="5.85" fill="#0040ff"/><rect x="290.13" y="294.78" width="5.91" height="5.85" fill="#00ff00"/><rect x="295.74" y="294.78" width="5.91" height="5.85" fill="#ffb000"/><rect x="301.35" y="294.78" width="5.91" height="5.85" fill="#ff0000"/><rect x="306.96" y="294.78" width="5.91" height="5.85" fill="#9200ff"/><rect x="312.57" y="294.78" width="5.91" height="5.85" fill="#00ff00"/><rect x="318.18" y="294.78" width="5.91" height="5.85" fill="#9200ff"/><rect x="323.79" y="294.78" width="5.91" height="5.85" fill="#00ff00"/><rect x="217.20" y="300.34" width="5.91" height="5.85" fill="#ff00c0"/><rect x="222.81" y="300.34" width="5.91" height="5.85" fill="#00ff00"/><rect x="228.42" y="300.34" width="5.91" height="5.85" fill="#9200ff"/><rect x="234.03" y="300.34" width="5.91" height="5.85" fill="#0040ff"/><rect x="239.64" y="300.34" width="5.91" height="5.85" fill="#00ff00"/><rect x="245.25" y="300.34" width="5.91" height="5.85" fill="#0040ff"/><rect x="250.86" y="300.34" width="5.91" height="5.85" fill="#00ffff"/><rect x="256.47" y="300.34" width="5.91" height="5.85" fill="#00ff00"/><rect x="262.08" y="300.34" width="5.91" height="5.85" fill="#0040ff"/><rect x="267.69" y="300.34" width="5.91" height="5.85" fill="#ff00c0"/><rect x="273.30" y="300.34" width="5.91" height="5.85" fill="#00ffff"/><rect x="278.91" y="300.34" width="5.91" height="5.85" fill="#00ff00"/><rect x="284.52" y="300.34" width="5.91" height="5.85" fill="#00ffff"/><rect x="290.13" y="300.34" width="5.91" height="5.85" fill="#00ff00"/><rect x="295.74" y="300.34" width="5.91" height="5.85" fill="#ff0000"/><rect x="301.35" y="300.34" width="5.91" height="5.85" fill="#ff0000"/><rect x="306.96" y="300.34" width="5.91" height="5.85" fill="#9200ff"/><rect x="312.57" y="300.34" width="5.91" height="5.85" fill="#ffb000"/><rect x="318.18" y="300.34" width="5.91" height="5.85" fill="#ff00c0"/><rect x="323.79" y="300.34" width="5.91" height="5.85" fill="#00ff00"/><rect x="217.20" y="305.89" width="5.91" height="5.85" fill="#ff00c0"/><rect x="222.81" y="305.89" width="5.91" height="5.85" fill="#0040ff"/><rect x="228.42" y="305.89" width="5.91" height="5.85" fill="#00ffff"/><rect x="234.03" y="305.89" width="5.91" height="5.85" fill="#00ff00"/><rect x="239.64" y="305.89" width="5.91" height="5.85" fill="#9200ff"/><rect x="245.25" y="305.89" width="5.91" height="5.85" fill="#00ff00"/><rect x="250.86" y="305.89" width="5.91" height="5.85" fill="#0040ff"/><rect x="256.47" y="305.89" width="5.91" height="5.85" fill="#9200ff"/><rect x="262.08" y="305.89" width="5.91" height="5.85" fill="#ff00c0"/><rect x="267.69" y="305.89" width="5.91" height="5.85" fill="#00ffff"/><rect x="273.30" y="305.89" width="5.91" height="5.85" fill="#ffb000"/><rect x="278.91" y="305.89" width="5.91" height="5.85" fill="#00ff00"/><rect x="284.52" y="305.89" width="5.91" height="5.85" fill="#00ff00"/><rect x="290.13" y="305.89" width="5.91" height="5.85" fill="#0040ff"/><rect x="295.74" y="305.89" width="5.91" height="5.85" fill="#00ff00"/><rect x="301.35" y="305.89" width="5.91" height="5.85" fill="#9200ff"/><rect x="306.96" y="305.89" width="5.91" height="5.85" fill="#9200ff"/><rect x="312.57" y="305.89" width="5.91" height="5.85" fill="#ff00c0"/><rect x="318.18" y="305.89" width="5.91" height="5.85" fill="#00ff00"/><rect x="323.79" y="305.89" width="5.91" height="5.85" fill="#00ff00"/><rect x="217.20" y="311.44" width="5.91" height="5.85" fill="#9200ff"/><rect x="222.81" y="311.44" width="5.91" height="5.85" fill="#0040ff"/><rect x="228.42" y="311.44" width="5.91" height="5.85" fill="#00ffff"/><rect x="234.03" y="311.44" width="5.91" height="5.85" fill="#00ffff"/><rect x="239.64" y="311.44" width="5.91" height="5.85" fill="#ffb000"/><rect x="245.25" y="311.44" width="5.91" height="5.85" fill="#ffb000"/><rect x="250.86" y="311.44" width="5.91" height="5.85" fill="#ff00c0"/><rect x="256.47" y="311.44" width="5.91" height="5.85" fill="#9200ff"/><rect x="262.08" y="311.44" width="5.91" height="5.85" fill="#00ff00"/><rect x="267.69" y="311.44" width="5.91" height="5.85" fill="#00ff00"/><rect x="273.30" y="311.44" width="5.91" height="5.85" fill="#00ffff"/><rect x="278.91" y="311.44" width="5.91" height="5.85" fill="#9200ff"/><rect x="284.52" y="311.44" width="5.91" height="5.85" fill="#00ff00"/><rect x="290.13" y="311.44" width="5.91" height="5.85" fill="#ffb000"/><rect x="295.74" y="311.44" width="5.91" height="5.85" fill="#ffb000"/><rect x="301.35" y="311.44" width="5.91" height="5.85" fill="#00ff00"/><rect x="306.96" y="311.44" width="5.91" height="5.85" fill="#0040ff"/><rect x="312.57" y="311.44" width="5.91" height="5.85" fill="#00ffff"/><rect x="318.18" y="311.44" width="5.91" height="5.85" fill="#ff0000"/><rect x="323.79" y="311.44" width="5.91" height="5.85" fill="#0040ff"/></g>
<rect x="215.1" y="205.5" width="117.5" height="111.7" fill="none" stroke="#444" stroke-width="1"/>
<line x1="215.1" y1="216.7" x2="216.6" y2="216.7" stroke="#444" stroke-width="0.8"/>
<line x1="332.6" y1="216.7" x2="331.1" y2="216.7" stroke="#444" stroke-width="0.8"/>
<line x1="215.1" y1="227.8" x2="216.6" y2="227.8" stroke="#444" stroke-width="0.8"/>
<line x1="332.6" y1="227.8" x2="331.1" y2="227.8" stroke="#444" stroke-width="0.8"/>
<line x1="215.1" y1="239.0" x2="216.6" y2="239.0" stroke="#444" stroke-width="0.8"/>
<line x1="332.6" y1="239.0" x2="331.1" y2="239.0" stroke="#444" stroke-width="0.8"/>
<line x1="215.1" y1="250.2" x2="216.6" y2="250.2" stroke="#444" stroke-width="0.8"/>
<line x1="332.6" y1="250.2" x2="331.1" y2="250.2" stroke="#444" stroke-width="0.8"/>
<line x1="215.1" y1="261.4" x2="216.6" y2="261.4" stroke="#444" stroke-width="0.8"/>
<line x1="332.6" y1="261.4" x2="331.1" y2="261.4" stroke="#444" stroke-width="0.8"/>
<line x1="215.1" y1="272.5" x2="216.6" y2="272.5" stroke="#444" stroke-width="0.8"/>
<line x1="332.6" y1="272.5" x2="331.1" y2="272.5" stroke="#444" stroke-width="0.8"/>
<line x1="215.1" y1="283.7" x2="216.6" y2="283.7" stroke="#444" stroke-width="0.8"/>
<line x1="332.6" y1="283.7" x2="331.1" y2="283.7" stroke="#444" stroke-width="0.8"/>
<line x1="215.1" y1="294.9" x2="216.6" y2="294.9" stroke="#444" stroke-width="0.8"/>
<line x1="332.6" y1="294.9" x2="331.1" y2="294.9" stroke="#444" stroke-width="0.8"/>
<line x1="215.1" y1="306.0" x2="216.6" y2="306.0" stroke="#444" stroke-width="0.8"/>
<line x1="332.6" y1="306.0" x2="331.1" y2="306.0" stroke="#444" stroke-width="0.8"/>
<text x="231.8" y="198.2" textLength="85.5" lengthAdjust="spacingAndGlyphs">3-bit phase distribution</text>
<text x="210.1" y="207.4" text-anchor="end">10</text>
<text x="210.1" y="263.25" text-anchor="end">0</text>
<text x="211.6" y="319.7" text-anchor="end">-10</text>
<text x="215.1" y="327.1" text-anchor="middle">-10</text>
<text x="273.85" y="327.4" text-anchor="middle">0</text>
<text x="330.0" y="327.4" text-anchor="middle">10</text>
<text x="217.6" y="337.6" textLength="112.3" lengthAdjust="spacingAndGlyphs">The Nth element on the x-axis</text>
<text x="197.2" y="258.8" text-anchor="middle" textLength="112" lengthAdjust="spacingAndGlyphs" transform="rotate(-90 197.2 258.8)">The Nth element on the y-axis</text>
<text x="274.2" y="351.3" text-anchor="middle">(e)</text>
<g shape-rendering="crispEdges"><rect x="393.90" y="204.90" width="5.90" height="5.87" fill="#00ff00"/><rect x="399.50" y="204.90" width="5.90" height="5.87" fill="#0040ff"/><rect x="405.09" y="204.90" width="5.90" height="5.87" fill="#00ff00"/><rect x="410.69" y="204.90" width="5.90" height="5.87" fill="#d4ff00"/><rect x="416.28" y="204.90" width="5.90" height="5.87" fill="#9200ff"/><rect x="421.88" y="204.90" width="5.90" height="5.87" fill="#ff0060"/><rect x="427.47" y="204.90" width="5.90" height="5.87" fill="#ff00c0"/><rect x="433.06" y="204.90" width="5.90" height="5.87" fill="#ff00c0"/><rect x="438.66" y="204.90" width="5.90" height="5.87" fill="#00ff00"/><rect x="444.25" y="204.90" width="5.90" height="5.87" fill="#00ffc0"/><rect x="449.85" y="204.90" width="5.90" height="5.87" fill="#00ffc0"/><rect x="455.44" y="204.90" width="5.90" height="5.87" fill="#ff0060"/><rect x="461.04" y="204.90" width="5.90" height="5.87" fill="#ffb000"/><rect x="466.63" y="204.90" width="5.90" height="5.87" fill="#0090ff"/><rect x="472.23" y="204.90" width="5.90" height="5.87" fill="#0040ff"/><rect x="477.82" y="204.90" width="5.90" height="5.87" fill="#00ff00"/><rect x="483.42" y="204.90" width="5.90" height="5.87" fill="#00ff00"/><rect x="489.01" y="204.90" width="5.90" height="5.87" fill="#00ffc0"/><rect x="494.61" y="204.90" width="5.90" height="5.87" fill="#00ff00"/><rect x="500.21" y="204.90" width="5.90" height="5.87" fill="#d4ff00"/><rect x="393.90" y="210.47" width="5.90" height="5.87" fill="#ff0000"/><rect x="399.50" y="210.47" width="5.90" height="5.87" fill="#00ffc0"/><rect x="405.09" y="210.47" width="5.90" height="5.87" fill="#9200ff"/><rect x="410.69" y="210.47" width="5.90" height="5.87" fill="#ff6000"/><rect x="416.28" y="210.47" width="5.90" height="5.87" fill="#d4ff00"/><rect x="421.88" y="210.47" width="5.90" height="5.87" fill="#ff0060"/><rect x="427.47" y="210.47" width="5.90" height="5.87" fill="#ff6000"/><rect x="433.06" y="210.47" width="5.90" height="5.87" fill="#ff6000"/><rect x="438.66" y="210.47" width="5.90" height="5.87" fill="#0040ff"/><rect x="444.25" y="210.47" width="5.90" height="5.87" fill="#00ff00"/><rect x="449.85" y="210.47" width="5.90" height="5.87" fill="#00ff00"/><rect x="455.44" y="210.47" width="5.90" height="5.87" fill="#ff0060"/><rect x="461.04" y="210.47" width="5.90" height="5.87" fill="#4000ff"/><rect x="466.63" y="210.47" width="5.90" height="5.87" fill="#00ff00"/><rect x="472.23" y="210.47" width="5.90" height="5.87" fill="#00ffc0"/><rect x="477.82" y="210.47" width="5.90" height="5.87" fill="#00ff00"/><rect x="483.42" y="210.47" width="5.90" height="5.87" fill="#00ff00"/><rect x="489.01" y="210.47" width="5.90" height="5.87" fill="#ff0060"/><rect x="494.61" y="210.47" width="5.90" height="5.87" fill="#ff0060"/><rect x="500.21" y="210.47" width="5.90" height="5.87" fill="#ff00c0"/><rect x="393.90" y="216.05" width="5.90" height="5.87" fill="#00ff00"/><rect x="399.50" y="216.05" width="5.90" height="5.87" fill="#00ffff"/><rect x="405.09" y="216.05" width="5.90" height="5.87" fill="#00ff00"/><rect x="410.69" y="216.05" width="5.90" height="5.87" fill="#ff0060"/><rect x="416.28" y="216.05" width="5.90" height="5.87" fill="#00ff00"/><rect x="421.88" y="216.05" width="5.90" height="5.87" fill="#ff0000"/><rect x="427.47" y="216.05" width="5.90" height="5.87" fill="#ff00c0"/><rect x="433.06" y="216.05" width="5.90" height="5.87" fill="#00ff00"/><rect x="438.66" y="216.05" width="5.90" height="5.87" fill="#ff6000"/><rect x="444.25" y="216.05" width="5.90" height="5.87" fill="#00ff00"/><rect x="449.85" y="216.05" width="5.90" height="5.87" fill="#00ffc0"/><rect x="455.44" y="216.05" width="5.90" height="5.87" fill="#ffb000"/><rect x="461.04" y="216.05" width="5.90" height="5.87" fill="#ff0000"/><rect x="466.63" y="216.05" width="5.90" height="5.87" fill="#00ff00"/><rect x="472.23" y="216.05" width="5.90" height="5.87" fill="#d4ff00"/><rect x="477.82" y="216.05" width="5.90" height="5.87" fill="#0090ff"/><rect x="483.42" y="216.05" width="5.90" height="5.87" fill="#0090ff"/><rect x="489.01" y="216.05" width="5.90" height="5.87" fill="#ff6000"/><rect x="494.61" y="216.05" width="5.90" height="5.87" fill="#00ff00"/><rect x="500.21" y="216.05" width="5.90" height="5.87" fill="#0040ff"/><rect x="393.90" y="221.62" width="5.90" height="5.87" fill="#00ffc0"/><rect x="399.50" y="221.62" width="5.90" height="5.87" fill="#9200ff"/><rect x="405.09" y="221.62" width="5.90" height="5.87" fill="#00ffc0"/><rect x="410.69" y="221.62" width="5.90" height="5.87" fill="#ff6000"/><rect x="416.28" y="221.62" width="5.90" height="5.87" fill="#0040ff"/><rect x="421.88" y="221.62" width="5.90" height="5.87" fill="#00ff00"/><rect x="427.47" y="221.62" width="5.90" height="5.87" fill="#00ffc0"/><rect x="433.06" y="221.62" width="5.90" height="5.87" fill="#0040ff"/><rect x="438.66" y="221.62" width="5.90" height="5.87" fill="#00ff00"/><rect x="444.25" y="221.62" width="5.90" height="5.87" fill="#d4ff00"/><rect x="449.85" y="221.62" width="5.90" height="5.87" fill="#ff0000"/><rect x="455.44" y="221.62" width="5.90" height="5.87" fill="#ffb000"/><rect x="461.04" y="221.62" width="5.90" height="5.87" fill="#00ff00"/><rect x="466.63" y="221.62" width="5.90" height="5.87" fill="#ff6000"/><rect x="472.23" y="221.62" width="5.90" height="5.87" fill="#ff0060"/><rect x="477.82" y="221.62" width="5.90" height="5.87" fill="#00ff00"/><rect x="483.42" y="221.62" width="5.90" height="5.87" fill="#ff0000"/><rect x="489.01" y="221.62" width="5.90" height="5.87" fill="#0090ff"/><rect x="494.61" y="221.62" width="5.90" height="5.87" fill="#0040ff"/><rect x="500.21" y="221.62" width="5.90" height="5.87" fill="#00ff00"/><rect x="393.90" y="227.20" width="5.90" height="5.87" fill="#ff00c0"/><rect x="399.50" y="227.20" width="5.90" height="5.87" fill="#00ff00"/><rect x="405.09" y="227.20" width="5.90" height="5.87" fill="#9200ff"/><rect x="410.69" y="227.20" width="5.90" height="5.87" fill="#ff6000"/><rect x="416.28" y="227.20" width="5.90" height="5.87" fill="#0040ff"/><rect x="421.88" y="227.20" width="5.90" height="5.87" fill="#ffb000"/><rect x="427.47" y="227.20" width="5.90" height="5.87" fill="#ff6000"/><rect x="433.06" y="227.20" width="5.90" height="5.87" fill="#ff6000"/><rect x="438.66" y="227.20" width="5.90" height="5.87" fill="#ff6000"/><rect x="444.25" y="227.20" width="5.90" height="5.87" fill="#ff0000"/><rect x="449.85" y="227.20" width="5.90" height="5.87" fill="#0090ff"/><rect x="455.44" y="227.20" width="5.90" height="5.87" fill="#ff00c0"/><rect x="461.04" y="227.20" width="5.90" height="5.87" fill="#0040ff"/><rect x="466.63" y="227.20" width="5.90" height="5.87" fill="#9200ff"/><rect x="472.23" y="227.20" width="5.90" height="5.87" fill="#00ff00"/><rect x="477.82" y="227.20" width="5.90" height="5.87" fill="#ff00c0"/><rect x="483.42" y="227.20" width="5.90" height="5.87" fill="#00ffff"/><rect x="489.01" y="227.20" width="5.90" height="5.87" fill="#ffb000"/><rect x="494.61" y="227.20" width="5.90" height="5.87" fill="#ff00c0"/><rect x="500.21" y="227.20" width="5.90" height="5.87" fill="#4000ff"/><rect x="393.90" y="232.78" width="5.90" height="5.87" fill="#ff00c0"/><rect x="399.50" y="232.78" width="5.90" height="5.87" fill="#ff00c0"/><rect x="405.09" y="232.78" width="5.90" height="5.87" fill="#00ff00"/><rect x="410.69" y="232.78" width="5.90" height="5.87" fill="#00ff00"/><rect x="416.28" y="232.78" width="5.90" height="5.87" fill="#00ffc0"/><rect x="421.88" y="232.78" width="5.90" height="5.87" fill="#00ff00"/><rect x="427.47" y="232.78" width="5.90" height="5.87" fill="#ff6000"/><rect x="433.06" y="232.78" width="5.90" height="5.87" fill="#00ff00"/><rect x="438.66" y="232.78" width="5.90" height="5.87" fill="#00ff00"/><rect x="444.25" y="232.78" width="5.90" height="5.87" fill="#00ff00"/><rect x="449.85" y="232.78" width="5.90" height="5.87" fill="#00ff00"/><rect x="455.44" y="232.78" width="5.90" height="5.87" fill="#0090ff"/><rect x="461.04" y="232.78" width="5.90" height="5.87" fill="#ffb000"/><rect x="466.63" y="232.78" width="5.90" height="5.87" fill="#00ff00"/><rect x="472.23" y="232.78" width="5.90" height="5.87" fill="#00ffff"/><rect x="477.82" y="232.78" width="5.90" height="5.87" fill="#00ffc0"/><rect x="483.42" y="232.78" width="5.90" height="5.87" fill="#9200ff"/><rect x="489.01" y="232.78" width="5.90" height="5.87" fill="#00ff00"/><rect x="494.61" y="232.78" width="5.90" height="5.87" fill="#ff00c0"/><rect x="500.21" y="232.78" width="5.90" height="5.87" fill="#ff0060"/><rect x="393.90" y="238.35" width="5.90" height="5.87" fill="#9200ff"/><rect x="399.50" y="238.35" width="5.90" height="5.87" fill="#ff6000"/><rect x="405.09" y="238.35" width="5.90" height="5.87" fill="#ff6000"/><rect x="410.69" y="238.35" width="5.90" height="5.87" fill="#00ff00"/><rect x="416.28" y="238.35" width="5.90" height="5.87" fill="#0040ff"/><rect x="421.88" y="238.35" width="5.90" height="5.87" fill="#ff0060"/><rect x="427.47" y="238.35" width="5.90" height="5.87" fill="#00ff00"/><rect x="433.06" y="238.35" width="5.90" height="5.87" fill="#00ffff"/><rect x="438.66" y="238.35" width="5.90" height="5.87" fill="#ffb000"/><rect x="444.25" y="238.35" width="5.90" height="5.87" fill="#9200ff"/><rect x="449.85" y="238.35" width="5.90" height="5.87" fill="#9200ff"/><rect x="455.44" y="238.35" width="5.90" height="5.87" fill="#ff00c0"/><rect x="461.04" y="238.35" width="5.90" height="5.87" fill="#ff0000"/><rect x="466.63" y="238.35" width="5.90" height="5.87" fill="#ff6000"/><rect x="472.23" y="238.35" width="5.90" height="5.87" fill="#ff00c0"/><rect x="477.82" y="238.35" width="5.90" height="5.87" fill="#00ffff"/><rect x="483.42" y="238.35" width="5.90" height="5.87" fill="#00ff00"/><rect x="489.01" y="238.35" width="5.90" height="5.87" fill="#ff6000"/><rect x="494.61" y="238.35" width="5.90" height="5.87" fill="#ff00c0"/><rect x="500.21" y="238.35" width="5.90" height="5.87" fill="#ff0060"/><rect x="393.90" y="243.93" width="5.90" height="5.87" fill="#ff6000"/><rect x="399.50" y="243.93" width="5.90" height="5.87" fill="#d4ff00"/><rect x="405.09" y="243.93" width="5.90" height="5.87" fill="#ff6000"/><rect x="410.69" y="243.93" width="5.90" height="5.87" fill="#00ff00"/><rect x="416.28" y="243.93" width="5.90" height="5.87" fill="#ffb000"/><rect x="421.88" y="243.93" width="5.90" height="5.87" fill="#ff6000"/><rect x="427.47" y="243.93" width="5.90" height="5.87" fill="#00ff00"/><rect x="433.06" y="243.93" width="5.90" height="5.87" fill="#0090ff"/><rect x="438.66" y="243.93" width="5.90" height="5.87" fill="#00ffc0"/><rect x="444.25" y="243.93" width="5.90" height="5.87" fill="#ff0000"/><rect x="449.85" y="243.93" width="5.90" height="5.87" fill="#00ffff"/><rect x="455.44" y="243.93" width="5.90" height="5.87" fill="#d4ff00"/><rect x="461.04" y="243.93" width="5.90" height="5.87" fill="#ff00c0"/><rect x="466.63" y="243.93" width="5.90" height="5.87" fill="#9200ff"/><rect x="472.23" y="243.93" width="5.90" height="5.87" fill="#ffb000"/><rect x="477.82" y="243.93" width="5.90" height="5.87" fill="#00ffff"/><rect x="483.42" y="243.93" width="5.90" height="5.87" fill="#00ff00"/><rect x="489.01" y="243.93" width="5.90" height="5.87" fill="#00ffc0"/><rect x="494.61" y="243.93" width="5.90" height="5.87" fill="#00ffc0"/><rect x="500.21" y="243.93" width="5.90" height="5.87" fill="#ff00c0"/><rect x="393.90" y="249.50" width="5.90" height="5.87" fill="#4000ff"/><rect x="399.50" y="249.50" width="5.90" height="5.87" fill="#00ff00"/><rect x="405.09" y="249.50" width="5.90" height="5.87" fill="#d4ff00"/><rect x="410.69" y="249.50" width="5.90" height="5.87" fill="#00ff00"/><rect x="416.28" y="249.50" width="5.90" height="5.87" fill="#00ff00"/><rect x="421.88" y="249.50" width="5.90" height="5.87" fill="#ff6000"/><rect x="427.47" y="249.50" width="5.90" height="5.87" fill="#00ff00"/><rect x="433.06" y="249.50" width="5.90" height="5.87" fill="#4000ff"/><rect x="438.66" y="249.50" width="5.90" height="5.87" fill="#ff0000"/><rect x="444.25" y="249.50" width="5.90" height="5.87" fill="#00ff00"/><rect x="449.85" y="249.50" width="5.90" height="5.87" fill="#0040ff"/><rect x="455.44" y="249.50" width="5.90" height="5.87" fill="#ff0000"/><rect x="461.04" y="249.50" width="5.90" height="5.87" fill="#00ffff"/><rect x="466.63" y="249.50" width="5.90" height="5.87" fill="#00ff00"/><rect x="472.23" y="249.50" width="5.90" height="5.87" fill="#0040ff"/><rect x="477.82" y="249.50" width="5.90" height="5.87" fill="#0090ff"/><rect x="483.42" y="249.50" width="5.90" height="5.87" fill="#d4ff00"/><rect x="489.01" y="249.50" width="5.90" height="5.87" fill="#0090ff"/><rect x="494.61" y="249.50" width="5.90" height="5.87" fill="#d4ff00"/><rect x="500.21" y="249.50" width="5.90" height="5.87" fill="#00ff00"/><rect x="393.90" y="255.07" width="5.90" height="5.87" fill="#ff00c0"/><rect x="399.50" y="255.07" width="5.90" height="5.87" fill="#00ffc0"/><rect x="405.09" y="255.07" width="5.90" height="5.87" fill="#4000ff"/><rect x="410.69" y="255.07" width="5.90" height="5.87" fill="#9200ff"/><rect x="416.28" y="255.07" width="5.90" height="5.87" fill="#0040ff"/><rect x="421.88" y="255.07" width="5.90" height="5.87" fill="#ff0000"/><rect x="427.47" y="255.07" width="5.90" height="5.87" fill="#ff00c0"/><rect x="433.06" y="255.07" width="5.90" height="5.87" fill="#0090ff"/><rect x="438.66" y="255.07" width="5.90" height="5.87" fill="#ffb000"/><rect x="444.25" y="255.07" width="5.90" height="5.87" fill="#ff0060"/><rect x="449.85" y="255.07" width="5.90" height="5.87" fill="#00ff00"/><rect x="455.44" y="255.07" width="5.90" height="5.87" fill="#00ffff"/><rect x="461.04" y="255.07" width="5.90" height="5.87" fill="#00ff00"/><rect x="466.63" y="255.07" width="5.90" height="5.87" fill="#ff00c0"/><rect x="472.23" y="255.07" width="5.90" height="5.87" fill="#ff00c0"/><rect x="477.82" y="255.07" width="5.90" height="5.87" fill="#ff00c0"/><rect x="483.42" y="255.07" width="5.90" height="5.87" fill="#ff0060"/><rect x="489.01" y="255.07" width="5.90" height="5.87" fill="#ffb000"/><rect x="494.61" y="255.07" width="5.90" height="5.87" fill="#4000ff"/><rect x="500.21" y="255.07" width="5.90" height="5.87" fill="#0090ff"/><rect x="393.90" y="260.65" width="5.90" height="5.87" fill="#00ff00"/><rect x="399.50" y="260.65" width="5.90" height="5.87" fill="#00ff00"/><rect x="405.09" y="260.65" width="5.90" height="5.87" fill="#ff0060"/><rect x="410.69" y="260.65" width="5.90" height="5.87" fill="#00ff00"/><rect x="416.28" y="260.65" width="5.90" height="5.87" fill="#ffb000"/><rect x="421.88" y="260.65" width="5.90" height="5.87" fill="#ff00c0"/><rect x="427.47" y="260.65" width="5.90" height="5.87" fill="#4000ff"/><rect x="433.06" y="260.65" width="5.90" height="5.87" fill="#0040ff"/><rect x="438.66" y="260.65" width="5.90" height="5.87" fill="#00ff00"/><rect x="444.25" y="260.65" width="5.90" height="5.87" fill="#9200ff"/><rect x="449.85" y="260.65" width="5.90" height="5.87" fill="#00ff00"/><rect x="455.44" y="260.65" width="5.90" height="5.87" fill="#00ff00"/><rect x="461.04" y="260.65" width="5.90" height="5.87" fill="#00ff00"/><rect x="466.63" y="260.65" width="5.90" height="5.87" fill="#00ff00"/><rect x="472.23" y="260.65" width="5.90" height="5.87" fill="#4000ff"/><rect x="477.82" y="260.65" width="5.90" height="5.87" fill="#9200ff"/><rect x="483.42" y="260.65" width="5.90" height="5.87" fill="#ff6000"/><rect x="489.01" y="260.65" width="5.90" height="5.87" fill="#00ff00"/><rect x="494.61" y="260.65" width="5.90" height="5.87" fill="#00ff00"/><rect x="500.21" y="260.65" width="5.90" height="5.87" fill="#ff0060"/><rect x="393.90" y="266.22" width="5.90" height="5.87" fill="#d4ff00"/><rect x="399.50" y="266.22" width="5.90" height="5.87" fill="#ff6000"/><rect x="405.09" y="266.22" width="5.90" height="5.87" fill="#00ff00"/><rect x="410.69" y="266.22" width="5.90" height="5.87" fill="#00ff00"/><rect x="416.28" y="266.22" width="5.90" height="5.87" fill="#0040ff"/><rect x="421.88" y="266.22" width="5.90" height="5.87" fill="#0040ff"/><rect x="427.47" y="266.22" width="5.90" height="5.87" fill="#ff00c0"/><rect x="433.06" y="266.22" width="5.90" height="5.87" fill="#0040ff"/><rect x="438.66" y="266.22" width="5.90" height="5.87" fill="#ffb000"/><rect x="444.25" y="266.22" width="5.90" height="5.87" fill="#4000ff"/><rect x="449.85" y="266.22" width="5.90" height="5.87" fill="#ffb000"/><rect x="455.44" y="266.22" width="5.90" height="5.87" fill="#00ff00"/><rect x="461.04" y="266.22" width="5.90" height="5.87" fill="#00ff00"/><rect x="466.63" y="266.22" width="5.90" height="5.87" fill="#9200ff"/><rect x="472.23" y="266.22" width="5.90" height="5.87" fill="#ffb000"/><rect x="477.82" y="266.22" width="5.90" height="5.87" fill="#ff00c0"/><rect x="483.42" y="266.22" width="5.90" height="5.87" fill="#00ff00"/><rect x="489.01" y="266.22" width="5.90" height="5.87" fill="#00ff00"/><rect x="494.61" y="266.22" width="5.90" height="5.87" fill="#ff6000"/><rect x="500.21" y="266.22" width="5.90" height="5.87" fill="#d4ff00"/><rect x="393.90" y="271.80" width="5.90" height="5.87" fill="#ff0060"/><rect x="399.50" y="271.80" width="5.90" height="5.87" fill="#d4ff00"/><rect x="405.09" y="271.80" width="5.90" height="5.87" fill="#00ff00"/><rect x="410.69" y="271.80" width="5.90" height="5.87" fill="#00ff00"/><rect x="416.28" y="271.80" width="5.90" height="5.87" fill="#ff00c0"/><rect x="421.88" y="271.80" width="5.90" height="5.87" fill="#ffb000"/><rect x="427.47" y="271.80" width="5.90" height="5.87" fill="#00ff00"/><rect x="433.06" y="271.80" width="5.90" height="5.87" fill="#0090ff"/><rect x="438.66" y="271.80" width="5.90" height="5.87" fill="#0040ff"/><rect x="444.25" y="271.80" width="5.90" height="5.87" fill="#00ffc0"/><rect x="449.85" y="271.80" width="5.90" height="5.87" fill="#00ff00"/><rect x="455.44" y="271.80" width="5.90" height="5.87" fill="#00ffc0"/><rect x="461.04" y="271.80" width="5.90" height="5.87" fill="#00ffc0"/><rect x="466.63" y="271.80" width="5.90" height="5.87" fill="#ffb000"/><rect x="472.23" y="271.80" width="5.90" height="5.87" fill="#d4ff00"/><rect x="477.82" y="271.80" width="5.90" height="5.87" fill="#0040ff"/><rect x="483.42" y="271.80" width="5.90" height="5.87" fill="#4000ff"/><rect x="489.01" y="271.80" width="5.90" height="5.87" fill="#ff00c0"/><rect x="494.61" y="271.80" width="5.90" height="5.87" fill="#00ffff"/><rect x="500.21" y="271.80" width="5.90" height="5.87" fill="#00ff00"/><rect x="393.90" y="277.38" width="5.90" height="5.87" fill="#ffb000"/><rect x="399.50" y="277.38" width="5.90" height="5.87" fill="#4000ff"/><rect x="405.09" y="277.38" width="5.90" height="5.87" fill="#00ffc0"/><rect x="410.69" y="277.38" width="5.90" height="5.87" fill="#ffb000"/><rect x="416.28" y="277.38" width="5.90" height="5.87" fill="#00ffff"/><rect x="421.88" y="277.38" width="5.90" height="5.87" fill="#00ffff"/><rect x="427.47" y="277.38" width="5.90" height="5.87" fill="#ff0060"/><rect x="433.06" y="277.38" width="5.90" height="5.87" fill="#4000ff"/><rect x="438.66" y="277.38" width="5.90" height="5.87" fill="#00ff00"/><rect x="444.25" y="277.38" width="5.90" height="5.87" fill="#4000ff"/><rect x="449.85" y="277.38" width="5.90" height="5.87" fill="#4000ff"/><rect x="455.44" y="277.38" width="5.90" height="5.87" fill="#ff0060"/><rect x="461.04" y="277.38" width="5.90" height="5.87" fill="#ff0060"/><rect x="466.63" y="277.38" width="5.90" height="5.87" fill="#00ff00"/><rect x="472.23" y="277.38" width="5.90" height="5.87" fill="#00ffc0"/><rect x="477.82" y="277.38" width="5.90" height="5.87" fill="#ff00c0"/><rect x="483.42" y="277.38" width="5.90" height="5.87" fill="#ff0060"/><rect x="489.01" y="277.38" width="5.90" height="5.87" fill="#ff00c0"/><rect x="494.61" y="277.38" width="5.90" height="5.87" fill="#00ffff"/><rect x="500.21" y="277.38" width="5.90" height="5.87" fill="#0040ff"/><rect x="393.90" y="282.95" width="5.90" height="5.87" fill="#ff6000"/><rect x="399.50" y="282.95" width="5.90" height="5.87" fill="#ffb000"/><rect x="405.09" y="282.95" width="5.90" height="5.87" fill="#00ff00"/><rect x="410.69" y="282.95" width="5.90" height="5.87" fill="#00ff00"/><rect x="416.28" y="282.95" width="5.90" height="5.87" fill="#9200ff"/><rect x="421.88" y="282.95" width="5.90" height="5.87" fill="#9200ff"/><rect x="427.47" y="282.95" width="5.90" height="5.87" fill="#ff00c0"/><rect x="433.06" y="282.95" width="5.90" height="5.87" fill="#0090ff"/><rect x="438.66" y="282.95" width="5.90" height="5.87" fill="#0040ff"/><rect x="444.25" y="282.95" width="5.90" height="5.87" fill="#0090ff"/><rect x="449.85" y="282.95" width="5.90" height="5.87" fill="#ff00c0"/><rect x="455.44" y="282.95" width="5.90" height="5.87" fill="#00ffff"/><rect x="461.04" y="282.95" width="5.90" height="5.87" fill="#00ffc0"/><rect x="466.63" y="282.95" width="5.90" height="5.87" fill="#0040ff"/><rect x="472.23" y="282.95" width="5.90" height="5.87" fill="#00ff00"/><rect x="477.82" y="282.95" width="5.90" height="5.87" fill="#ffb000"/><rect x="483.42" y="282.95" width="5.90" height="5.87" fill="#00ff00"/><rect x="489.01" y="282.95" width="5.90" height="5.87" fill="#00ff00"/><rect x="494.61" y="282.95" width="5.90" height="5.87" fill="#4000ff"/><rect x="500.21" y="282.95" width="5.90" height="5.87" fill="#ff00c0"/><rect x="393.90" y="288.52" width="5.90" height="5.87" fill="#00ffff"/><rect x="399.50" y="288.52" width="5.90" height="5.87" fill="#9200ff"/><rect x="405.09" y="288.52" width="5.90" height="5.87" fill="#ffb000"/><rect x="410.69" y="288.52" width="5.90" height="5.87" fill="#9200ff"/><rect x="416.28" y="288.52" width="5.90" height="5.87" fill="#d4ff00"/><rect x="421.88" y="288.52" width="5.90" height="5.87" fill="#00ffff"/><rect x="427.47" y="288.52" width="5.90" height="5.87" fill="#00ff00"/><rect x="433.06" y="288.52" width="5.90" height="5.87" fill="#0040ff"/><rect x="438.66" y="288.52" width="5.90" height="5.87" fill="#00ff00"/><rect x="444.25" y="288.52" width="5.90" height="5.87" fill="#ff0000"/><rect x="449.85" y="288.52" width="5.90" height="5.87" fill="#d4ff00"/><rect x="455.44" y="288.52" width="5.90" height="5.87" fill="#d4ff00"/><rect x="461.04" y="288.52" width="5.90" height="5.87" fill="#0040ff"/><rect x="466.63" y="288.52" width="5.90" height="5.87" fill="#00ff00"/><rect x="472.23" y="288.52" width="5.90" height="5.87" fill="#d4ff00"/><rect x="477.82" y="288.52" width="5.90" height="5.87" fill="#00ff00"/><rect x="483.42" y="288.52" width="5.90" height="5.87" fill="#ff0000"/><rect x="489.01" y="288.52" width="5.90" height="5.87" fill="#00ff00"/><rect x="494.61" y="288.52" width="5.90" height="5.87" fill="#00ff00"/><rect x="500.21" y="288.52" width="5.90" height="5.87" fill="#4000ff"/><rect x="393.90" y="294.10" width="5.90" height="5.87" fill="#00ffc0"/><rect x="399.50" y="294.10" width="5.90" height="5.87" fill="#00ffc0"/><rect x="405.09" y="294.10" width="5.90" height="5.87" fill="#00ffc0"/><rect x="410.69" y="294.10" width="5.90" height="5.87" fill="#0040ff"/><rect x="416.28" y="294.10" width="5.90" height="5.87" fill="#00ffff"/><rect x="421.88" y="294.10" width="5.90" height="5.87" fill="#ff6000"/><rect x="427.47" y="294.10" width="5.90" height="5.87" fill="#ff6000"/><rect x="433.06" y="294.10" width="5.90" height="5.87" fill="#00ffc0"/><rect x="438.66" y="294.10" width="5.90" height="5.87" fill="#ff0000"/><rect x="444.25" y="294.10" width="5.90" height="5.87" fill="#0090ff"/><rect x="449.85" y="294.10" width="5.90" height="5.87" fill="#ff0060"/><rect x="455.44" y="294.10" width="5.90" height="5.87" fill="#00ff00"/><rect x="461.04" y="294.10" width="5.90" height="5.87" fill="#00ff00"/><rect x="466.63" y="294.10" width="5.90" height="5.87" fill="#ff0060"/><rect x="472.23" y="294.10" width="5.90" height="5.87" fill="#ff00c0"/><rect x="477.82" y="294.10" width="5.90" height="5.87" fill="#00ffc0"/><rect x="483.42" y="294.10" width="5.90" height="5.87" fill="#ff0060"/><rect x="489.01" y="294.10" width="5.90" height="5.87" fill="#00ffc0"/><rect x="494.61" y="294.10" width="5.90" height="5.87" fill="#00ffff"/><rect x="500.21" y="294.10" width="5.90" height="5.87" fill="#00ffc0"/><rect x="393.90" y="299.67" width="5.90" height="5.87" fill="#ff6000"/><rect x="399.50" y="299.67" width="5.90" height="5.87" fill="#00ffc0"/><rect x="405.09" y="299.67" width="5.90" height="5.87" fill="#ffb000"/><rect x="410.69" y="299.67" width="5.90" height="5.87" fill="#ff0000"/><rect x="416.28" y="299.67" width="5.90" height="5.87" fill="#00ff00"/><rect x="421.88" y="299.67" width="5.90" height="5.87" fill="#ff0060"/><rect x="427.47" y="299.67" width="5.90" height="5.87" fill="#ff0060"/><rect x="433.06" y="299.67" width="5.90" height="5.87" fill="#ff00c0"/><rect x="438.66" y="299.67" width="5.90" height="5.87" fill="#ff0060"/><rect x="444.25" y="299.67" width="5.90" height="5.87" fill="#ff6000"/><rect x="449.85" y="299.67" width="5.90" height="5.87" fill="#ff0000"/><rect x="455.44" y="299.67" width="5.90" height="5.87" fill="#ffb000"/><rect x="461.04" y="299.67" width="5.90" height="5.87" fill="#00ff00"/><rect x="466.63" y="299.67" width="5.90" height="5.87" fill="#00ffff"/><rect x="472.23" y="299.67" width="5.90" height="5.87" fill="#ff0000"/><rect x="477.82" y="299.67" width="5.90" height="5.87" fill="#0040ff"/><rect x="483.42" y="299.67" width="5.90" height="5.87" fill="#00ff00"/><rect x="489.01" y="299.67" width="5.90" height="5.87" fill="#d4ff00"/><rect x="494.61" y="299.67" width="5.90" height="5.87" fill="#d4ff00"/><rect x="500.21" y="299.67" width="5.90" height="5.87" fill="#00ff00"/><rect x="393.90" y="305.25" width="5.90" height="5.87" fill="#d4ff00"/><rect x="399.50" y="305.25" width="5.90" height="5.87" fill="#4000ff"/><rect x="405.09" y="305.25" width="5.90" height="5.87" fill="#ff00c0"/><rect x="410.69" y="305.25" width="5.90" height="5.87" fill="#ff00c0"/><rect x="416.28" y="305.25" width="5.90" height="5.87" fill="#00ffff"/><rect x="421.88" y="305.25" width="5.90" height="5.87" fill="#ff00c0"/><rect x="427.47" y="305.25" width="5.90" height="5.87" fill="#00ff00"/><rect x="433.06" y="305.25" width="5.90" height="5.87" fill="#ff0000"/><rect x="438.66" y="305.25" width="5.90" height="5.87" fill="#ff0000"/><rect x="444.25" y="305.25" width="5.90" height="5.87" fill="#ffb000"/><rect x="449.85" y="305.25" width="5.90" height="5.87" fill="#00ff00"/><rect x="455.44" y="305.25" width="5.90" height="5.87" fill="#00ff00"/><rect x="461.04" y="305.25" width="5.90" height="5.87" fill="#00ff00"/><rect x="466.63" y="305.25" width="5.90" height="5.87" fill="#ff00c0"/><rect x="472.23" y="305.25" width="5.90" height="5.87" fill="#00ff00"/><rect x="477.82" y="305.25" width="5.90" height="5.87" fill="#d4ff00"/><rect x="483.42" y="305.25" width="5.90" height="5.87" fill="#d4ff00"/><rect x="489.01" y="305.25" width="5.90" height="5.87" fill="#ff0060"/><rect x="494.61" y="305.25" width="5.90" height="5.87" fill="#ff0000"/><rect x="500.21" y="305.25" width="5.90" height="5.87" fill="#0090ff"/><rect x="393.90" y="310.82" width="5.90" height="5.87" fill="#4000ff"/><rect x="399.50" y="310.82" width="5.90" height="5.87" fill="#00ff00"/><rect x="405.09" y="310.82" width="5.90" height="5.87" fill="#ff00c0"/><rect x="410.69" y="310.82" width="5.90" height="5.87" fill="#ff6000"/><rect x="416.28" y="310.82" width="5.90" height="5.87" fill="#ff00c0"/><rect x="421.88" y="310.82" width="5.90" height="5.87" fill="#ff0060"/><rect x="427.47" y="310.82" width="5.90" height="5.87" fill="#0040ff"/><rect x="433.06" y="310.82" width="5.90" height="5.87" fill="#9200ff"/><rect x="438.66" y="310.82" width="5.90" height="5.87" fill="#00ffff"/><rect x="444.25" y="310.82" width="5.90" height="5.87" fill="#ff00c0"/><rect x="449.85" y="310.82" width="5.90" height="5.87" fill="#ff6000"/><rect x="455.44" y="310.82" width="5.90" height="5.87" fill="#00ff00"/><rect x="461.04" y="310.82" width="5.90" height="5.87" fill="#ffb000"/><rect x="466.63" y="310.82" width="5.90" height="5.87" fill="#d4ff00"/><rect x="472.23" y="310.82" width="5.90" height="5.87" fill="#ff0000"/><rect x="477.82" y="310.82" width="5.90" height="5.87" fill="#ff00c0"/><rect x="483.42" y="310.82" width="5.90" height="5.87" fill="#d4ff00"/><rect x="489.01" y="310.82" width="5.90" height="5.87" fill="#4000ff"/><rect x="494.61" y="310.82" width="5.90" height="5.87" fill="#ff6000"/><rect x="500.21" y="310.82" width="5.90" height="5.87" fill="#d4ff00"/></g>
<rect x="391" y="204.6" width="116.7" height="111.8" fill="none" stroke="#444" stroke-width="1"/>
<line x1="391" y1="215.8" x2="392.5" y2="215.8" stroke="#444" stroke-width="0.8"/>
<line x1="507.7" y1="215.8" x2="506.2" y2="215.8" stroke="#444" stroke-width="0.8"/>
<line x1="391" y1="227.0" x2="392.5" y2="227.0" stroke="#444" stroke-width="0.8"/>
<line x1="507.7" y1="227.0" x2="506.2" y2="227.0" stroke="#444" stroke-width="0.8"/>
<line x1="391" y1="238.1" x2="392.5" y2="238.1" stroke="#444" stroke-width="0.8"/>
<line x1="507.7" y1="238.1" x2="506.2" y2="238.1" stroke="#444" stroke-width="0.8"/>
<line x1="391" y1="249.3" x2="392.5" y2="249.3" stroke="#444" stroke-width="0.8"/>
<line x1="507.7" y1="249.3" x2="506.2" y2="249.3" stroke="#444" stroke-width="0.8"/>
<line x1="391" y1="260.5" x2="392.5" y2="260.5" stroke="#444" stroke-width="0.8"/>
<line x1="507.7" y1="260.5" x2="506.2" y2="260.5" stroke="#444" stroke-width="0.8"/>
<line x1="391" y1="271.7" x2="392.5" y2="271.7" stroke="#444" stroke-width="0.8"/>
<line x1="507.7" y1="271.7" x2="506.2" y2="271.7" stroke="#444" stroke-width="0.8"/>
<line x1="391" y1="282.9" x2="392.5" y2="282.9" stroke="#444" stroke-width="0.8"/>
<line x1="507.7" y1="282.9" x2="506.2" y2="282.9" stroke="#444" stroke-width="0.8"/>
<line x1="391" y1="294.0" x2="392.5" y2="294.0" stroke="#444" stroke-width="0.8"/>
<line x1="507.7" y1="294.0" x2="506.2" y2="294.0" stroke="#444" stroke-width="0.8"/>
<line x1="391" y1="305.2" x2="392.5" y2="305.2" stroke="#444" stroke-width="0.8"/>
<line x1="507.7" y1="305.2" x2="506.2" y2="305.2" stroke="#444" stroke-width="0.8"/>
<text x="407.4" y="198.2" textLength="85.8" lengthAdjust="spacingAndGlyphs">4-bit phase distribution</text>
<text x="386" y="207.4" text-anchor="end">10</text>
<text x="386" y="262.4" text-anchor="end">0</text>
<text x="387.5" y="318.9" text-anchor="end">-10</text>
<text x="391" y="327.1" text-anchor="middle">-10</text>
<text x="449.35" y="327.4" text-anchor="middle">0</text>
<text x="505.09999999999997" y="327.4" text-anchor="middle">10</text>
<text x="393.5" y="337.6" textLength="112.3" lengthAdjust="spacingAndGlyphs">The Nth element on the x-axis</text>
<text x="373.09999999999997" y="258.8" text-anchor="middle" textLength="112" lengthAdjust="spacingAndGlyphs" transform="rotate(-90 373.09999999999997 258.8)">The Nth element on the y-axis</text>
<text x="448.7" y="351.3" text-anchor="middle">(f)</text>
<defs><linearGradient id="hsv" x1="0" y1="1" x2="0" y2="0"><stop offset="0" stop-color="#ff0000"/><stop offset="0.16666666666666666" stop-color="#ffff00"/><stop offset="0.3333333333333333" stop-color="#00ff00"/><stop offset="0.5" stop-color="#00ffff"/><stop offset="0.6666666666666666" stop-color="#0000ff"/><stop offset="0.8333333333333334" stop-color="#ff00ff"/><stop offset="1" stop-color="#ff0000"/></linearGradient></defs>
<rect x="516.5" y="204.3" width="11.7" height="113.7" fill="url(#hsv)" stroke="#111" stroke-width="1.4"/>
<line x1="525.4000000000001" y1="211.0" x2="528.2" y2="211.0" stroke="#111" stroke-width="1.5"/>
<line x1="525.4000000000001" y1="217.7" x2="528.2" y2="217.7" stroke="#111" stroke-width="1.5"/>
<line x1="525.4000000000001" y1="224.4" x2="528.2" y2="224.4" stroke="#111" stroke-width="1.5"/>
<line x1="525.4000000000001" y1="231.1" x2="528.2" y2="231.1" stroke="#111" stroke-width="1.5"/>
<line x1="525.4000000000001" y1="237.7" x2="528.2" y2="237.7" stroke="#111" stroke-width="1.5"/>
<line x1="525.4000000000001" y1="244.4" x2="528.2" y2="244.4" stroke="#111" stroke-width="1.5"/>
<line x1="525.4000000000001" y1="251.1" x2="528.2" y2="251.1" stroke="#111" stroke-width="1.5"/>
<line x1="525.4000000000001" y1="257.8" x2="528.2" y2="257.8" stroke="#111" stroke-width="1.5"/>
<line x1="525.4000000000001" y1="264.5" x2="528.2" y2="264.5" stroke="#111" stroke-width="1.5"/>
<line x1="525.4000000000001" y1="271.2" x2="528.2" y2="271.2" stroke="#111" stroke-width="1.5"/>
<line x1="525.4000000000001" y1="277.9" x2="528.2" y2="277.9" stroke="#111" stroke-width="1.5"/>
<line x1="525.4000000000001" y1="284.6" x2="528.2" y2="284.6" stroke="#111" stroke-width="1.5"/>
<line x1="525.4000000000001" y1="291.2" x2="528.2" y2="291.2" stroke="#111" stroke-width="1.5"/>
<line x1="525.4000000000001" y1="297.9" x2="528.2" y2="297.9" stroke="#111" stroke-width="1.5"/>
<line x1="525.4000000000001" y1="304.6" x2="528.2" y2="304.6" stroke="#111" stroke-width="1.5"/>
<line x1="525.4000000000001" y1="311.3" x2="528.2" y2="311.3" stroke="#111" stroke-width="1.5"/>
<text x="532" y="207.2">2π</text>
<text x="530.5" y="236.6" textLength="15.5" lengthAdjust="spacingAndGlyphs">3π/2</text>
<text x="534.6" y="264.1">π</text>
<text x="531.6" y="291.7" textLength="10.9" lengthAdjust="spacingAndGlyphs">π/2</text>
<text x="534" y="321">0</text>
</svg>
</body></html>
